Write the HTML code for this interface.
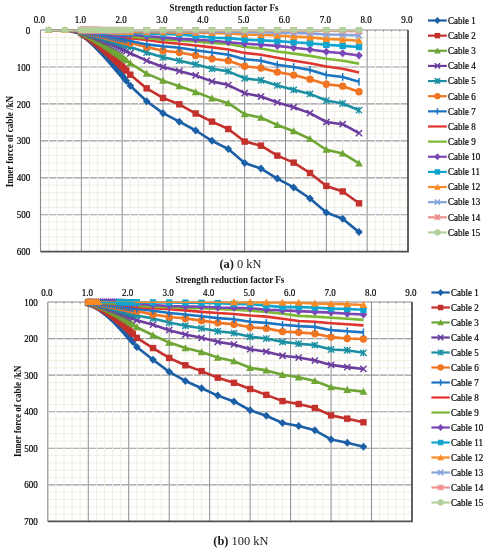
<!DOCTYPE html>
<html><head><meta charset="utf-8"><title>Cable inner force vs strength reduction factor</title>
<style>html,body{margin:0;padding:0;background:#fff;}body{width:488px;height:550px;overflow:hidden;}svg{display:block;}</style>
</head><body>
<svg width="488" height="550" viewBox="0 0 488 550"><defs><clipPath id="ct"><rect x="40.5" y="29.7" width="367.5" height="222"/></clipPath><clipPath id="cb"><rect x="47.8" y="301.5" width="364.2" height="219.9"/></clipPath></defs><rect x="40.5" y="30" width="367.5" height="221.7" fill="#fff"/><path d="M48.67 30V251.7M56.83 30V251.7M65 30V251.7M73.17 30V251.7M89.5 30V251.7M97.67 30V251.7M105.83 30V251.7M114 30V251.7M130.33 30V251.7M138.5 30V251.7M146.67 30V251.7M154.83 30V251.7M171.17 30V251.7M179.33 30V251.7M187.5 30V251.7M195.67 30V251.7M212 30V251.7M220.17 30V251.7M228.33 30V251.7M236.5 30V251.7M252.83 30V251.7M261 30V251.7M269.17 30V251.7M277.33 30V251.7M293.67 30V251.7M301.83 30V251.7M310 30V251.7M318.17 30V251.7M334.5 30V251.7M342.67 30V251.7M350.83 30V251.7M359 30V251.7M375.33 30V251.7M383.5 30V251.7M391.67 30V251.7M399.83 30V251.7" stroke="#F1EDE1" stroke-width="1" fill="none"/><path d="M40.5 37.39H408M40.5 44.78H408M40.5 52.17H408M40.5 59.56H408M40.5 74.34H408M40.5 81.73H408M40.5 89.12H408M40.5 96.51H408M40.5 111.29H408M40.5 118.68H408M40.5 126.07H408M40.5 133.46H408M40.5 148.24H408M40.5 155.63H408M40.5 163.02H408M40.5 170.41H408M40.5 185.19H408M40.5 192.58H408M40.5 199.97H408M40.5 207.36H408M40.5 222.14H408M40.5 229.53H408M40.5 236.92H408M40.5 244.31H408" stroke="#F1EDE1" stroke-width="1" fill="none"/><path d="M81.33 30V251.7M122.17 30V251.7M163 30V251.7M203.83 30V251.7M244.67 30V251.7M285.5 30V251.7M326.33 30V251.7M367.17 30V251.7" stroke="#8E8E8E" stroke-width="1" fill="none"/><path d="M40.5 66.95H408M40.5 103.9H408M40.5 140.85H408M40.5 177.8H408M40.5 214.75H408" stroke="#9A9A9A" stroke-width="1.15" fill="none" stroke-dasharray="7.07 1.1" stroke-dashoffset="7.62"/><path d="M40.5 251.7V30M40.5 30H408" stroke="#8A8A8A" stroke-width="1.1" fill="none"/><path d="M408 30V251.7H40.5" stroke="#505050" stroke-width="1.8" fill="none"/><path d="M48.67 30V31.6M56.83 30V31.6M65 30V31.6M73.17 30V31.6M81.33 30V31.6M89.5 30V31.6M97.67 30V31.6M105.83 30V31.6M114 30V31.6M122.17 30V31.6M130.33 30V31.6M138.5 30V31.6M146.67 30V31.6M154.83 30V31.6M163 30V31.6M171.17 30V31.6M179.33 30V31.6M187.5 30V31.6M195.67 30V31.6M203.83 30V31.6M212 30V31.6M220.17 30V31.6M228.33 30V31.6M236.5 30V31.6M244.67 30V31.6M252.83 30V31.6M261 30V31.6M269.17 30V31.6M277.33 30V31.6M285.5 30V31.6M293.67 30V31.6M301.83 30V31.6M310 30V31.6M318.17 30V31.6M326.33 30V31.6M334.5 30V31.6M342.67 30V31.6M350.83 30V31.6M359 30V31.6M367.17 30V31.6M375.33 30V31.6M383.5 30V31.6M391.67 30V31.6M399.83 30V31.6" stroke="#8A8A8A" stroke-width="0.8" fill="none"/><path d="M48.67 30L65 30L81.33 33.91L83.38 35.05L85.42 36.54L87.46 38.18L89.5 39.95L91.54 41.8L93.58 43.74L95.62 45.73L97.67 47.79L99.71 49.9L101.75 52.05L103.79 54.25L105.83 56.49L107.88 58.77L109.92 61.08L111.96 63.43L114 65.8L116.04 68.21L118.08 70.65L120.12 73.11L122.17 75.6L124.21 78.11L126.25 80.65L130.33 85.79L146.67 101.31L163 113.14L179.33 121.64L195.67 130.5L212 140.85L228.33 148.98L244.67 163.02L261 168.56L277.33 178.54L293.67 187.41L310 198.49L326.33 212.53L342.67 218.81L359 232.12" stroke="#1B5FA6" stroke-width="2.6" fill="none" stroke-linejoin="round" clip-path="url(#ct)"/><g><path d="M81.33 29.91L85.13 33.91L81.33 37.91L77.53 33.91Z" fill="#1B5FA6"/><path d="M83.38 31.05L87.17 35.05L83.38 39.05L79.58 35.05Z" fill="#1B5FA6"/><path d="M85.42 32.54L89.22 36.54L85.42 40.54L81.62 36.54Z" fill="#1B5FA6"/><path d="M87.46 34.18L91.26 38.18L87.46 42.18L83.66 38.18Z" fill="#1B5FA6"/><path d="M89.5 35.95L93.3 39.95L89.5 43.95L85.7 39.95Z" fill="#1B5FA6"/><path d="M91.54 37.8L95.34 41.8L91.54 45.8L87.74 41.8Z" fill="#1B5FA6"/><path d="M93.58 39.74L97.38 43.74L93.58 47.74L89.78 43.74Z" fill="#1B5FA6"/><path d="M95.62 41.73L99.42 45.73L95.62 49.73L91.83 45.73Z" fill="#1B5FA6"/><path d="M97.67 43.79L101.47 47.79L97.67 51.79L93.87 47.79Z" fill="#1B5FA6"/><path d="M99.71 45.9L103.51 49.9L99.71 53.9L95.91 49.9Z" fill="#1B5FA6"/><path d="M101.75 48.05L105.55 52.05L101.75 56.05L97.95 52.05Z" fill="#1B5FA6"/><path d="M103.79 50.25L107.59 54.25L103.79 58.25L99.99 54.25Z" fill="#1B5FA6"/><path d="M105.83 52.49L109.63 56.49L105.83 60.49L102.03 56.49Z" fill="#1B5FA6"/><path d="M107.88 54.77L111.67 58.77L107.88 62.77L104.08 58.77Z" fill="#1B5FA6"/><path d="M109.92 57.08L113.72 61.08L109.92 65.08L106.12 61.08Z" fill="#1B5FA6"/><path d="M111.96 59.43L115.76 63.43L111.96 67.43L108.16 63.43Z" fill="#1B5FA6"/><path d="M114 61.8L117.8 65.8L114 69.8L110.2 65.8Z" fill="#1B5FA6"/><path d="M116.04 64.21L119.84 68.21L116.04 72.21L112.24 68.21Z" fill="#1B5FA6"/><path d="M118.08 66.65L121.88 70.65L118.08 74.65L114.28 70.65Z" fill="#1B5FA6"/><path d="M120.12 69.11L123.92 73.11L120.12 77.11L116.33 73.11Z" fill="#1B5FA6"/><path d="M122.17 71.6L125.97 75.6L122.17 79.6L118.37 75.6Z" fill="#1B5FA6"/><path d="M124.21 74.11L128.01 78.11L124.21 82.11L120.41 78.11Z" fill="#1B5FA6"/><path d="M126.25 76.65L130.05 80.65L126.25 84.65L122.45 80.65Z" fill="#1B5FA6"/><path d="M130.33 81.79L134.13 85.79L130.33 89.79L126.53 85.79Z" fill="#1B5FA6"/><path d="M146.67 97.31L150.47 101.31L146.67 105.31L142.87 101.31Z" fill="#1B5FA6"/><path d="M163 109.14L166.8 113.14L163 117.14L159.2 113.14Z" fill="#1B5FA6"/><path d="M179.33 117.64L183.13 121.64L179.33 125.64L175.53 121.64Z" fill="#1B5FA6"/><path d="M195.67 126.5L199.47 130.5L195.67 134.5L191.87 130.5Z" fill="#1B5FA6"/><path d="M212 136.85L215.8 140.85L212 144.85L208.2 140.85Z" fill="#1B5FA6"/><path d="M228.33 144.98L232.13 148.98L228.33 152.98L224.53 148.98Z" fill="#1B5FA6"/><path d="M244.67 159.02L248.47 163.02L244.67 167.02L240.87 163.02Z" fill="#1B5FA6"/><path d="M261 164.56L264.8 168.56L261 172.56L257.2 168.56Z" fill="#1B5FA6"/><path d="M277.33 174.54L281.13 178.54L277.33 182.54L273.53 178.54Z" fill="#1B5FA6"/><path d="M293.67 183.41L297.47 187.41L293.67 191.41L289.87 187.41Z" fill="#1B5FA6"/><path d="M310 194.49L313.8 198.49L310 202.49L306.2 198.49Z" fill="#1B5FA6"/><path d="M326.33 208.53L330.13 212.53L326.33 216.53L322.53 212.53Z" fill="#1B5FA6"/><path d="M342.67 214.81L346.47 218.81L342.67 222.81L338.87 218.81Z" fill="#1B5FA6"/><path d="M359 228.12L362.8 232.12L359 236.12L355.2 232.12Z" fill="#1B5FA6"/></g><path d="M48.67 30L65 30L81.33 33.13L83.38 34.05L85.42 35.24L87.46 36.56L89.5 37.97L91.54 39.46L93.58 41.01L95.62 42.61L97.67 44.26L99.71 45.94L101.75 47.67L103.79 49.43L105.83 51.23L107.88 53.05L109.92 54.91L111.96 56.79L114 58.69L116.04 60.62L118.08 62.57L120.12 64.54L122.17 66.54L124.21 68.55L126.25 70.59L130.33 74.71L146.67 88.38L163 97.99L179.33 104.27L195.67 113.51L212 121.64L228.33 129.03L244.67 141.59L261 145.65L277.33 155.63L293.67 162.65L310 173L326.33 185.93L342.67 191.47L359 203.3" stroke="#C4302C" stroke-width="2.6" fill="none" stroke-linejoin="round" clip-path="url(#ct)"/><g><rect x="78.13" y="29.93" width="6.4" height="6.4" fill="#C4302C"/><rect x="80.17" y="30.85" width="6.4" height="6.4" fill="#C4302C"/><rect x="82.22" y="32.04" width="6.4" height="6.4" fill="#C4302C"/><rect x="84.26" y="33.36" width="6.4" height="6.4" fill="#C4302C"/><rect x="86.3" y="34.77" width="6.4" height="6.4" fill="#C4302C"/><rect x="88.34" y="36.26" width="6.4" height="6.4" fill="#C4302C"/><rect x="90.38" y="37.81" width="6.4" height="6.4" fill="#C4302C"/><rect x="92.42" y="39.41" width="6.4" height="6.4" fill="#C4302C"/><rect x="94.47" y="41.06" width="6.4" height="6.4" fill="#C4302C"/><rect x="96.51" y="42.74" width="6.4" height="6.4" fill="#C4302C"/><rect x="98.55" y="44.47" width="6.4" height="6.4" fill="#C4302C"/><rect x="100.59" y="46.23" width="6.4" height="6.4" fill="#C4302C"/><rect x="102.63" y="48.03" width="6.4" height="6.4" fill="#C4302C"/><rect x="104.67" y="49.85" width="6.4" height="6.4" fill="#C4302C"/><rect x="106.72" y="51.71" width="6.4" height="6.4" fill="#C4302C"/><rect x="108.76" y="53.59" width="6.4" height="6.4" fill="#C4302C"/><rect x="110.8" y="55.49" width="6.4" height="6.4" fill="#C4302C"/><rect x="112.84" y="57.42" width="6.4" height="6.4" fill="#C4302C"/><rect x="114.88" y="59.37" width="6.4" height="6.4" fill="#C4302C"/><rect x="116.92" y="61.34" width="6.4" height="6.4" fill="#C4302C"/><rect x="118.97" y="63.34" width="6.4" height="6.4" fill="#C4302C"/><rect x="121.01" y="65.35" width="6.4" height="6.4" fill="#C4302C"/><rect x="123.05" y="67.39" width="6.4" height="6.4" fill="#C4302C"/><rect x="127.13" y="71.51" width="6.4" height="6.4" fill="#C4302C"/><rect x="143.47" y="85.18" width="6.4" height="6.4" fill="#C4302C"/><rect x="159.8" y="94.79" width="6.4" height="6.4" fill="#C4302C"/><rect x="176.13" y="101.07" width="6.4" height="6.4" fill="#C4302C"/><rect x="192.47" y="110.31" width="6.4" height="6.4" fill="#C4302C"/><rect x="208.8" y="118.44" width="6.4" height="6.4" fill="#C4302C"/><rect x="225.13" y="125.83" width="6.4" height="6.4" fill="#C4302C"/><rect x="241.47" y="138.39" width="6.4" height="6.4" fill="#C4302C"/><rect x="257.8" y="142.45" width="6.4" height="6.4" fill="#C4302C"/><rect x="274.13" y="152.43" width="6.4" height="6.4" fill="#C4302C"/><rect x="290.47" y="159.45" width="6.4" height="6.4" fill="#C4302C"/><rect x="306.8" y="169.8" width="6.4" height="6.4" fill="#C4302C"/><rect x="323.13" y="182.73" width="6.4" height="6.4" fill="#C4302C"/><rect x="339.47" y="188.27" width="6.4" height="6.4" fill="#C4302C"/><rect x="355.8" y="200.1" width="6.4" height="6.4" fill="#C4302C"/></g><path d="M48.67 30L65 30L81.33 32.33L83.38 33.01L85.42 33.9L87.46 34.88L89.5 35.93L91.54 37.04L93.58 38.19L95.62 39.38L97.67 40.6L99.71 41.86L101.75 43.14L103.79 44.45L105.83 45.79L107.88 47.15L109.92 48.53L111.96 49.92L114 51.34L116.04 52.77L118.08 54.23L120.12 55.69L122.17 57.18L124.21 58.68L126.25 60.19L130.33 63.26L146.67 73.6L163 80.62L179.33 86.16L195.67 92.08L212 98.36L228.33 103.16L244.67 114.25L261 117.57L277.33 124.96L293.67 131.24L310 139L326.33 149.72L342.67 153.41L359 163.39" stroke="#6EA535" stroke-width="2.6" fill="none" stroke-linejoin="round" clip-path="url(#ct)"/><g><path d="M81.33 28.43L85.23 35.45L77.43 35.45Z" fill="#6EA535"/><path d="M83.38 29.11L87.28 36.13L79.47 36.13Z" fill="#6EA535"/><path d="M85.42 30L89.32 37.02L81.52 37.02Z" fill="#6EA535"/><path d="M87.46 30.98L91.36 38L83.56 38Z" fill="#6EA535"/><path d="M89.5 32.03L93.4 39.05L85.6 39.05Z" fill="#6EA535"/><path d="M91.54 33.14L95.44 40.16L87.64 40.16Z" fill="#6EA535"/><path d="M93.58 34.29L97.48 41.31L89.68 41.31Z" fill="#6EA535"/><path d="M95.62 35.48L99.53 42.5L91.72 42.5Z" fill="#6EA535"/><path d="M97.67 36.7L101.57 43.72L93.77 43.72Z" fill="#6EA535"/><path d="M99.71 37.96L103.61 44.98L95.81 44.98Z" fill="#6EA535"/><path d="M101.75 39.24L105.65 46.26L97.85 46.26Z" fill="#6EA535"/><path d="M103.79 40.55L107.69 47.57L99.89 47.57Z" fill="#6EA535"/><path d="M105.83 41.89L109.73 48.91L101.93 48.91Z" fill="#6EA535"/><path d="M107.88 43.25L111.78 50.27L103.97 50.27Z" fill="#6EA535"/><path d="M109.92 44.63L113.82 51.65L106.02 51.65Z" fill="#6EA535"/><path d="M111.96 46.02L115.86 53.04L108.06 53.04Z" fill="#6EA535"/><path d="M114 47.44L117.9 54.46L110.1 54.46Z" fill="#6EA535"/><path d="M116.04 48.87L119.94 55.89L112.14 55.89Z" fill="#6EA535"/><path d="M118.08 50.33L121.98 57.35L114.18 57.35Z" fill="#6EA535"/><path d="M120.12 51.79L124.03 58.81L116.22 58.81Z" fill="#6EA535"/><path d="M122.17 53.28L126.07 60.3L118.27 60.3Z" fill="#6EA535"/><path d="M124.21 54.78L128.11 61.8L120.31 61.8Z" fill="#6EA535"/><path d="M126.25 56.29L130.15 63.31L122.35 63.31Z" fill="#6EA535"/><path d="M130.33 59.36L134.23 66.38L126.43 66.38Z" fill="#6EA535"/><path d="M146.67 69.7L150.57 76.72L142.77 76.72Z" fill="#6EA535"/><path d="M163 76.72L166.9 83.74L159.1 83.74Z" fill="#6EA535"/><path d="M179.33 82.26L183.23 89.28L175.43 89.28Z" fill="#6EA535"/><path d="M195.67 88.18L199.57 95.2L191.77 95.2Z" fill="#6EA535"/><path d="M212 94.46L215.9 101.48L208.1 101.48Z" fill="#6EA535"/><path d="M228.33 99.26L232.23 106.28L224.43 106.28Z" fill="#6EA535"/><path d="M244.67 110.35L248.57 117.37L240.77 117.37Z" fill="#6EA535"/><path d="M261 113.67L264.9 120.69L257.1 120.69Z" fill="#6EA535"/><path d="M277.33 121.06L281.23 128.08L273.43 128.08Z" fill="#6EA535"/><path d="M293.67 127.34L297.57 134.36L289.77 134.36Z" fill="#6EA535"/><path d="M310 135.1L313.9 142.12L306.1 142.12Z" fill="#6EA535"/><path d="M326.33 145.82L330.23 152.84L322.43 152.84Z" fill="#6EA535"/><path d="M342.67 149.51L346.57 156.53L338.77 156.53Z" fill="#6EA535"/><path d="M359 159.49L362.9 166.51L355.1 166.51Z" fill="#6EA535"/></g><path d="M48.67 30L65 30L81.33 31.63L83.38 32.11L85.42 32.73L87.46 33.41L89.5 34.15L91.54 34.93L93.58 35.73L95.62 36.56L97.67 37.42L99.71 38.3L101.75 39.2L103.79 40.12L105.83 41.05L107.88 42L109.92 42.97L111.96 43.95L114 44.94L116.04 45.94L118.08 46.96L120.12 47.99L122.17 49.02L124.21 50.07L126.25 51.13L130.33 53.28L146.67 60.67L163 66.95L179.33 71.01L195.67 75.45L212 81.36L228.33 85.06L244.67 93.18L261 96.51L277.33 102.42L293.67 107.23L310 113.14L326.33 122.01L342.67 124.22L359 133.09" stroke="#6A3D9E" stroke-width="2.6" fill="none" stroke-linejoin="round" clip-path="url(#ct)"/><g><path d="M78.23 28.53L84.43 34.73M78.23 34.73L84.43 28.53" stroke="#6A3D9E" stroke-width="1.5" fill="none"/><path d="M80.28 29.01L86.47 35.21M80.28 35.21L86.47 29.01" stroke="#6A3D9E" stroke-width="1.5" fill="none"/><path d="M82.32 29.63L88.52 35.83M82.32 35.83L88.52 29.63" stroke="#6A3D9E" stroke-width="1.5" fill="none"/><path d="M84.36 30.31L90.56 36.51M84.36 36.51L90.56 30.31" stroke="#6A3D9E" stroke-width="1.5" fill="none"/><path d="M86.4 31.05L92.6 37.25M86.4 37.25L92.6 31.05" stroke="#6A3D9E" stroke-width="1.5" fill="none"/><path d="M88.44 31.83L94.64 38.03M88.44 38.03L94.64 31.83" stroke="#6A3D9E" stroke-width="1.5" fill="none"/><path d="M90.48 32.63L96.68 38.83M90.48 38.83L96.68 32.63" stroke="#6A3D9E" stroke-width="1.5" fill="none"/><path d="M92.53 33.46L98.72 39.66M92.53 39.66L98.72 33.46" stroke="#6A3D9E" stroke-width="1.5" fill="none"/><path d="M94.57 34.32L100.77 40.52M94.57 40.52L100.77 34.32" stroke="#6A3D9E" stroke-width="1.5" fill="none"/><path d="M96.61 35.2L102.81 41.4M96.61 41.4L102.81 35.2" stroke="#6A3D9E" stroke-width="1.5" fill="none"/><path d="M98.65 36.1L104.85 42.3M98.65 42.3L104.85 36.1" stroke="#6A3D9E" stroke-width="1.5" fill="none"/><path d="M100.69 37.02L106.89 43.22M100.69 43.22L106.89 37.02" stroke="#6A3D9E" stroke-width="1.5" fill="none"/><path d="M102.73 37.95L108.93 44.15M102.73 44.15L108.93 37.95" stroke="#6A3D9E" stroke-width="1.5" fill="none"/><path d="M104.78 38.9L110.97 45.1M104.78 45.1L110.97 38.9" stroke="#6A3D9E" stroke-width="1.5" fill="none"/><path d="M106.82 39.87L113.02 46.07M106.82 46.07L113.02 39.87" stroke="#6A3D9E" stroke-width="1.5" fill="none"/><path d="M108.86 40.85L115.06 47.05M108.86 47.05L115.06 40.85" stroke="#6A3D9E" stroke-width="1.5" fill="none"/><path d="M110.9 41.84L117.1 48.04M110.9 48.04L117.1 41.84" stroke="#6A3D9E" stroke-width="1.5" fill="none"/><path d="M112.94 42.84L119.14 49.04M112.94 49.04L119.14 42.84" stroke="#6A3D9E" stroke-width="1.5" fill="none"/><path d="M114.98 43.86L121.18 50.06M114.98 50.06L121.18 43.86" stroke="#6A3D9E" stroke-width="1.5" fill="none"/><path d="M117.03 44.89L123.22 51.09M117.03 51.09L123.22 44.89" stroke="#6A3D9E" stroke-width="1.5" fill="none"/><path d="M119.07 45.92L125.27 52.12M119.07 52.12L125.27 45.92" stroke="#6A3D9E" stroke-width="1.5" fill="none"/><path d="M121.11 46.97L127.31 53.17M121.11 53.17L127.31 46.97" stroke="#6A3D9E" stroke-width="1.5" fill="none"/><path d="M123.15 48.03L129.35 54.23M123.15 54.23L129.35 48.03" stroke="#6A3D9E" stroke-width="1.5" fill="none"/><path d="M127.23 50.18L133.43 56.38M127.23 56.38L133.43 50.18" stroke="#6A3D9E" stroke-width="1.5" fill="none"/><path d="M143.57 57.57L149.77 63.77M143.57 63.77L149.77 57.57" stroke="#6A3D9E" stroke-width="1.5" fill="none"/><path d="M159.9 63.85L166.1 70.05M159.9 70.05L166.1 63.85" stroke="#6A3D9E" stroke-width="1.5" fill="none"/><path d="M176.23 67.91L182.43 74.11M176.23 74.11L182.43 67.91" stroke="#6A3D9E" stroke-width="1.5" fill="none"/><path d="M192.57 72.35L198.77 78.55M192.57 78.55L198.77 72.35" stroke="#6A3D9E" stroke-width="1.5" fill="none"/><path d="M208.9 78.26L215.1 84.46M208.9 84.46L215.1 78.26" stroke="#6A3D9E" stroke-width="1.5" fill="none"/><path d="M225.23 81.96L231.43 88.16M225.23 88.16L231.43 81.96" stroke="#6A3D9E" stroke-width="1.5" fill="none"/><path d="M241.57 90.08L247.77 96.28M241.57 96.28L247.77 90.08" stroke="#6A3D9E" stroke-width="1.5" fill="none"/><path d="M257.9 93.41L264.1 99.61M257.9 99.61L264.1 93.41" stroke="#6A3D9E" stroke-width="1.5" fill="none"/><path d="M274.23 99.32L280.43 105.52M274.23 105.52L280.43 99.32" stroke="#6A3D9E" stroke-width="1.5" fill="none"/><path d="M290.57 104.13L296.77 110.33M290.57 110.33L296.77 104.13" stroke="#6A3D9E" stroke-width="1.5" fill="none"/><path d="M306.9 110.04L313.1 116.24M306.9 116.24L313.1 110.04" stroke="#6A3D9E" stroke-width="1.5" fill="none"/><path d="M323.23 118.91L329.43 125.11M323.23 125.11L329.43 118.91" stroke="#6A3D9E" stroke-width="1.5" fill="none"/><path d="M339.57 121.12L345.77 127.32M339.57 127.32L345.77 121.12" stroke="#6A3D9E" stroke-width="1.5" fill="none"/><path d="M355.9 129.99L362.1 136.19M355.9 136.19L362.1 129.99" stroke="#6A3D9E" stroke-width="1.5" fill="none"/></g><path d="M48.67 30L65 30L81.33 31.19L83.38 31.54L85.42 31.99L87.46 32.49L89.5 33.03L91.54 33.6L93.58 34.18L95.62 34.79L97.67 35.42L99.71 36.06L101.75 36.72L103.79 37.39L105.83 38.07L107.88 38.76L109.92 39.47L111.96 40.18L114 40.91L116.04 41.64L118.08 42.38L120.12 43.13L122.17 43.89L124.21 44.66L126.25 45.43L130.33 47L146.67 52.54L163 57.34L179.33 60.67L195.67 64.36L212 68.8L228.33 71.38L244.67 78.4L261 80.25L277.33 85.42L293.67 89.86L310 93.92L326.33 100.57L342.67 103.53L359 110.18" stroke="#1B90A2" stroke-width="2.6" fill="none" stroke-linejoin="round" clip-path="url(#ct)"/><g><path d="M78.13 27.99L84.53 34.39M78.13 34.39L84.53 27.99M81.33 27.99L81.33 34.39" stroke="#1B90A2" stroke-width="1.4" fill="none"/><path d="M80.17 28.34L86.58 34.74M80.17 34.74L86.58 28.34M83.38 28.34L83.38 34.74" stroke="#1B90A2" stroke-width="1.4" fill="none"/><path d="M82.22 28.79L88.62 35.19M82.22 35.19L88.62 28.79M85.42 28.79L85.42 35.19" stroke="#1B90A2" stroke-width="1.4" fill="none"/><path d="M84.26 29.29L90.66 35.69M84.26 35.69L90.66 29.29M87.46 29.29L87.46 35.69" stroke="#1B90A2" stroke-width="1.4" fill="none"/><path d="M86.3 29.83L92.7 36.23M86.3 36.23L92.7 29.83M89.5 29.83L89.5 36.23" stroke="#1B90A2" stroke-width="1.4" fill="none"/><path d="M88.34 30.4L94.74 36.8M88.34 36.8L94.74 30.4M91.54 30.4L91.54 36.8" stroke="#1B90A2" stroke-width="1.4" fill="none"/><path d="M90.38 30.98L96.78 37.38M90.38 37.38L96.78 30.98M93.58 30.98L93.58 37.38" stroke="#1B90A2" stroke-width="1.4" fill="none"/><path d="M92.42 31.59L98.83 37.99M92.42 37.99L98.83 31.59M95.62 31.59L95.62 37.99" stroke="#1B90A2" stroke-width="1.4" fill="none"/><path d="M94.47 32.22L100.87 38.62M94.47 38.62L100.87 32.22M97.67 32.22L97.67 38.62" stroke="#1B90A2" stroke-width="1.4" fill="none"/><path d="M96.51 32.86L102.91 39.26M96.51 39.26L102.91 32.86M99.71 32.86L99.71 39.26" stroke="#1B90A2" stroke-width="1.4" fill="none"/><path d="M98.55 33.52L104.95 39.92M98.55 39.92L104.95 33.52M101.75 33.52L101.75 39.92" stroke="#1B90A2" stroke-width="1.4" fill="none"/><path d="M100.59 34.19L106.99 40.59M100.59 40.59L106.99 34.19M103.79 34.19L103.79 40.59" stroke="#1B90A2" stroke-width="1.4" fill="none"/><path d="M102.63 34.87L109.03 41.27M102.63 41.27L109.03 34.87M105.83 34.87L105.83 41.27" stroke="#1B90A2" stroke-width="1.4" fill="none"/><path d="M104.67 35.56L111.08 41.96M104.67 41.96L111.08 35.56M107.88 35.56L107.88 41.96" stroke="#1B90A2" stroke-width="1.4" fill="none"/><path d="M106.72 36.27L113.12 42.67M106.72 42.67L113.12 36.27M109.92 36.27L109.92 42.67" stroke="#1B90A2" stroke-width="1.4" fill="none"/><path d="M108.76 36.98L115.16 43.38M108.76 43.38L115.16 36.98M111.96 36.98L111.96 43.38" stroke="#1B90A2" stroke-width="1.4" fill="none"/><path d="M110.8 37.71L117.2 44.11M110.8 44.11L117.2 37.71M114 37.71L114 44.11" stroke="#1B90A2" stroke-width="1.4" fill="none"/><path d="M112.84 38.44L119.24 44.84M112.84 44.84L119.24 38.44M116.04 38.44L116.04 44.84" stroke="#1B90A2" stroke-width="1.4" fill="none"/><path d="M114.88 39.18L121.28 45.58M114.88 45.58L121.28 39.18M118.08 39.18L118.08 45.58" stroke="#1B90A2" stroke-width="1.4" fill="none"/><path d="M116.92 39.93L123.33 46.33M116.92 46.33L123.33 39.93M120.12 39.93L120.12 46.33" stroke="#1B90A2" stroke-width="1.4" fill="none"/><path d="M118.97 40.69L125.37 47.09M118.97 47.09L125.37 40.69M122.17 40.69L122.17 47.09" stroke="#1B90A2" stroke-width="1.4" fill="none"/><path d="M121.01 41.46L127.41 47.86M121.01 47.86L127.41 41.46M124.21 41.46L124.21 47.86" stroke="#1B90A2" stroke-width="1.4" fill="none"/><path d="M123.05 42.23L129.45 48.63M123.05 48.63L129.45 42.23M126.25 42.23L126.25 48.63" stroke="#1B90A2" stroke-width="1.4" fill="none"/><path d="M127.13 43.8L133.53 50.2M127.13 50.2L133.53 43.8M130.33 43.8L130.33 50.2" stroke="#1B90A2" stroke-width="1.4" fill="none"/><path d="M143.47 49.34L149.87 55.74M143.47 55.74L149.87 49.34M146.67 49.34L146.67 55.74" stroke="#1B90A2" stroke-width="1.4" fill="none"/><path d="M159.8 54.14L166.2 60.54M159.8 60.54L166.2 54.14M163 54.14L163 60.54" stroke="#1B90A2" stroke-width="1.4" fill="none"/><path d="M176.13 57.47L182.53 63.87M176.13 63.87L182.53 57.47M179.33 57.47L179.33 63.87" stroke="#1B90A2" stroke-width="1.4" fill="none"/><path d="M192.47 61.16L198.87 67.56M192.47 67.56L198.87 61.16M195.67 61.16L195.67 67.56" stroke="#1B90A2" stroke-width="1.4" fill="none"/><path d="M208.8 65.6L215.2 72M208.8 72L215.2 65.6M212 65.6L212 72" stroke="#1B90A2" stroke-width="1.4" fill="none"/><path d="M225.13 68.18L231.53 74.58M225.13 74.58L231.53 68.18M228.33 68.18L228.33 74.58" stroke="#1B90A2" stroke-width="1.4" fill="none"/><path d="M241.47 75.2L247.87 81.6M241.47 81.6L247.87 75.2M244.67 75.2L244.67 81.6" stroke="#1B90A2" stroke-width="1.4" fill="none"/><path d="M257.8 77.05L264.2 83.45M257.8 83.45L264.2 77.05M261 77.05L261 83.45" stroke="#1B90A2" stroke-width="1.4" fill="none"/><path d="M274.13 82.22L280.53 88.62M274.13 88.62L280.53 82.22M277.33 82.22L277.33 88.62" stroke="#1B90A2" stroke-width="1.4" fill="none"/><path d="M290.47 86.66L296.87 93.06M290.47 93.06L296.87 86.66M293.67 86.66L293.67 93.06" stroke="#1B90A2" stroke-width="1.4" fill="none"/><path d="M306.8 90.72L313.2 97.12M306.8 97.12L313.2 90.72M310 90.72L310 97.12" stroke="#1B90A2" stroke-width="1.4" fill="none"/><path d="M323.13 97.37L329.53 103.77M323.13 103.77L329.53 97.37M326.33 97.37L326.33 103.77" stroke="#1B90A2" stroke-width="1.4" fill="none"/><path d="M339.47 100.33L345.87 106.73M339.47 106.73L345.87 100.33M342.67 100.33L342.67 106.73" stroke="#1B90A2" stroke-width="1.4" fill="none"/><path d="M355.8 106.98L362.2 113.38M355.8 113.38L362.2 106.98M359 106.98L359 113.38" stroke="#1B90A2" stroke-width="1.4" fill="none"/></g><path d="M48.67 30L65 30L81.33 30.91L83.38 31.17L85.42 31.52L87.46 31.9L89.5 32.31L91.54 32.74L93.58 33.18L95.62 33.65L97.67 34.12L99.71 34.61L101.75 35.11L103.79 35.62L105.83 36.14L107.88 36.67L109.92 37.2L111.96 37.75L114 38.3L116.04 38.86L118.08 39.42L120.12 39.99L122.17 40.57L124.21 41.15L126.25 41.74L130.33 42.93L146.67 47L163 50.69L179.33 52.54L195.67 55.5L212 58.82L228.33 60.67L244.67 66.21L261 68.06L277.33 72.12L293.67 75.08L310 79.14L326.33 84.32L342.67 86.16L359 91.71" stroke="#F07522" stroke-width="2.6" fill="none" stroke-linejoin="round" clip-path="url(#ct)"/><g><circle cx="81.33" cy="30.91" r="3.7" fill="#F07522"/><circle cx="83.38" cy="31.17" r="3.7" fill="#F07522"/><circle cx="85.42" cy="31.52" r="3.7" fill="#F07522"/><circle cx="87.46" cy="31.9" r="3.7" fill="#F07522"/><circle cx="89.5" cy="32.31" r="3.7" fill="#F07522"/><circle cx="91.54" cy="32.74" r="3.7" fill="#F07522"/><circle cx="93.58" cy="33.18" r="3.7" fill="#F07522"/><circle cx="95.62" cy="33.65" r="3.7" fill="#F07522"/><circle cx="97.67" cy="34.12" r="3.7" fill="#F07522"/><circle cx="99.71" cy="34.61" r="3.7" fill="#F07522"/><circle cx="101.75" cy="35.11" r="3.7" fill="#F07522"/><circle cx="103.79" cy="35.62" r="3.7" fill="#F07522"/><circle cx="105.83" cy="36.14" r="3.7" fill="#F07522"/><circle cx="107.88" cy="36.67" r="3.7" fill="#F07522"/><circle cx="109.92" cy="37.2" r="3.7" fill="#F07522"/><circle cx="111.96" cy="37.75" r="3.7" fill="#F07522"/><circle cx="114" cy="38.3" r="3.7" fill="#F07522"/><circle cx="116.04" cy="38.86" r="3.7" fill="#F07522"/><circle cx="118.08" cy="39.42" r="3.7" fill="#F07522"/><circle cx="120.12" cy="39.99" r="3.7" fill="#F07522"/><circle cx="122.17" cy="40.57" r="3.7" fill="#F07522"/><circle cx="124.21" cy="41.15" r="3.7" fill="#F07522"/><circle cx="126.25" cy="41.74" r="3.7" fill="#F07522"/><circle cx="130.33" cy="42.93" r="3.7" fill="#F07522"/><circle cx="146.67" cy="47" r="3.7" fill="#F07522"/><circle cx="163" cy="50.69" r="3.7" fill="#F07522"/><circle cx="179.33" cy="52.54" r="3.7" fill="#F07522"/><circle cx="195.67" cy="55.5" r="3.7" fill="#F07522"/><circle cx="212" cy="58.82" r="3.7" fill="#F07522"/><circle cx="228.33" cy="60.67" r="3.7" fill="#F07522"/><circle cx="244.67" cy="66.21" r="3.7" fill="#F07522"/><circle cx="261" cy="68.06" r="3.7" fill="#F07522"/><circle cx="277.33" cy="72.12" r="3.7" fill="#F07522"/><circle cx="293.67" cy="75.08" r="3.7" fill="#F07522"/><circle cx="310" cy="79.14" r="3.7" fill="#F07522"/><circle cx="326.33" cy="84.32" r="3.7" fill="#F07522"/><circle cx="342.67" cy="86.16" r="3.7" fill="#F07522"/><circle cx="359" cy="91.71" r="3.7" fill="#F07522"/></g><path d="M48.67 30L65 30L81.33 30.78L83.38 31L85.42 31.3L87.46 31.63L89.5 31.98L91.54 32.35L93.58 32.73L95.62 33.13L97.67 33.53L99.71 33.95L101.75 34.38L103.79 34.82L105.83 35.26L107.88 35.72L109.92 36.18L111.96 36.64L114 37.11L116.04 37.59L118.08 38.08L120.12 38.56L122.17 39.06L124.21 39.56L126.25 40.06L130.33 41.09L146.67 44.41L163 46.26L179.33 47.74L195.67 50.32L212 52.54L228.33 54.76L244.67 59.19L261 60.67L277.33 64.73L293.67 66.95L310 69.91L326.33 75.08L342.67 76.93L359 81.73" stroke="#1C74C2" stroke-width="2.6" fill="none" stroke-linejoin="round" clip-path="url(#ct)"/><g><path d="M81.33 26.98L81.33 34.58" stroke="#1C74C2" stroke-width="1.5" fill="none"/><path d="M83.38 27.2L83.38 34.8" stroke="#1C74C2" stroke-width="1.5" fill="none"/><path d="M85.42 27.5L85.42 35.1" stroke="#1C74C2" stroke-width="1.5" fill="none"/><path d="M87.46 27.83L87.46 35.43" stroke="#1C74C2" stroke-width="1.5" fill="none"/><path d="M89.5 28.18L89.5 35.78" stroke="#1C74C2" stroke-width="1.5" fill="none"/><path d="M91.54 28.55L91.54 36.15" stroke="#1C74C2" stroke-width="1.5" fill="none"/><path d="M93.58 28.93L93.58 36.53" stroke="#1C74C2" stroke-width="1.5" fill="none"/><path d="M95.62 29.33L95.62 36.93" stroke="#1C74C2" stroke-width="1.5" fill="none"/><path d="M97.67 29.73L97.67 37.33" stroke="#1C74C2" stroke-width="1.5" fill="none"/><path d="M99.71 30.15L99.71 37.75" stroke="#1C74C2" stroke-width="1.5" fill="none"/><path d="M101.75 30.58L101.75 38.18" stroke="#1C74C2" stroke-width="1.5" fill="none"/><path d="M103.79 31.02L103.79 38.62" stroke="#1C74C2" stroke-width="1.5" fill="none"/><path d="M105.83 31.46L105.83 39.06" stroke="#1C74C2" stroke-width="1.5" fill="none"/><path d="M107.88 31.92L107.88 39.52" stroke="#1C74C2" stroke-width="1.5" fill="none"/><path d="M109.92 32.38L109.92 39.98" stroke="#1C74C2" stroke-width="1.5" fill="none"/><path d="M111.96 32.84L111.96 40.44" stroke="#1C74C2" stroke-width="1.5" fill="none"/><path d="M114 33.31L114 40.91" stroke="#1C74C2" stroke-width="1.5" fill="none"/><path d="M116.04 33.79L116.04 41.39" stroke="#1C74C2" stroke-width="1.5" fill="none"/><path d="M118.08 34.28L118.08 41.88" stroke="#1C74C2" stroke-width="1.5" fill="none"/><path d="M120.12 34.76L120.12 42.36" stroke="#1C74C2" stroke-width="1.5" fill="none"/><path d="M122.17 35.26L122.17 42.86" stroke="#1C74C2" stroke-width="1.5" fill="none"/><path d="M124.21 35.76L124.21 43.36" stroke="#1C74C2" stroke-width="1.5" fill="none"/><path d="M126.25 36.26L126.25 43.86" stroke="#1C74C2" stroke-width="1.5" fill="none"/><path d="M130.33 37.29L130.33 44.88" stroke="#1C74C2" stroke-width="1.5" fill="none"/><path d="M146.67 40.61L146.67 48.21" stroke="#1C74C2" stroke-width="1.5" fill="none"/><path d="M163 42.46L163 50.06" stroke="#1C74C2" stroke-width="1.5" fill="none"/><path d="M179.33 43.94L179.33 51.54" stroke="#1C74C2" stroke-width="1.5" fill="none"/><path d="M195.67 46.52L195.67 54.12" stroke="#1C74C2" stroke-width="1.5" fill="none"/><path d="M212 48.74L212 56.34" stroke="#1C74C2" stroke-width="1.5" fill="none"/><path d="M228.33 50.96L228.33 58.56" stroke="#1C74C2" stroke-width="1.5" fill="none"/><path d="M244.67 55.39L244.67 62.99" stroke="#1C74C2" stroke-width="1.5" fill="none"/><path d="M261 56.87L261 64.47" stroke="#1C74C2" stroke-width="1.5" fill="none"/><path d="M277.33 60.93L277.33 68.53" stroke="#1C74C2" stroke-width="1.5" fill="none"/><path d="M293.67 63.15L293.67 70.75" stroke="#1C74C2" stroke-width="1.5" fill="none"/><path d="M310 66.11L310 73.71" stroke="#1C74C2" stroke-width="1.5" fill="none"/><path d="M326.33 71.28L326.33 78.88" stroke="#1C74C2" stroke-width="1.5" fill="none"/><path d="M342.67 73.13L342.67 80.73" stroke="#1C74C2" stroke-width="1.5" fill="none"/><path d="M359 77.93L359 85.53" stroke="#1C74C2" stroke-width="1.5" fill="none"/></g><path d="M48.67 30L65 30L81.33 30.57L83.38 30.74L85.42 30.95L87.46 31.19L89.5 31.45L91.54 31.72L93.58 32L95.62 32.29L97.67 32.59L99.71 32.9L101.75 33.21L103.79 33.53L105.83 33.86L107.88 34.19L109.92 34.53L111.96 34.87L114 35.22L116.04 35.57L118.08 35.92L120.12 36.28L122.17 36.64L124.21 37.01L126.25 37.38L130.33 38.13L146.67 39.98L163 42.19L179.33 43.67L195.67 45.52L212 47.37L228.33 49.58L244.67 52.91L261 54.76L277.33 57.71L293.67 60.67L310 63.26L326.33 66.58L342.67 68.8L359 72.49" stroke="#E0342F" stroke-width="2.6" fill="none" stroke-linejoin="round" clip-path="url(#ct)"/><path d="M48.67 30L65 30L81.33 30.47L83.38 30.6L85.42 30.78L87.46 30.98L89.5 31.19L91.54 31.41L93.58 31.64L95.62 31.88L97.67 32.12L99.71 32.37L101.75 32.63L103.79 32.89L105.83 33.16L107.88 33.43L109.92 33.71L111.96 33.98L114 34.27L116.04 34.55L118.08 34.85L120.12 35.14L122.17 35.44L124.21 35.74L126.25 36.04L130.33 36.65L146.67 38.13L163 39.61L179.33 40.35L195.67 41.45L212 42.93L228.33 44.04L244.67 47L261 48.48L277.33 51.43L293.67 53.65L310 55.86L326.33 58.82L342.67 60.67L359 63.62" stroke="#7DBA34" stroke-width="2.6" fill="none" stroke-linejoin="round" clip-path="url(#ct)"/><path d="M48.67 30L65 30L81.33 30.34L83.38 30.43L85.42 30.56L87.46 30.7L89.5 30.86L91.54 31.02L93.58 31.18L95.62 31.35L97.67 31.53L99.71 31.71L101.75 31.9L103.79 32.09L105.83 32.28L107.88 32.48L109.92 32.68L111.96 32.88L114 33.08L116.04 33.29L118.08 33.5L120.12 33.71L122.17 33.93L124.21 34.14L126.25 34.36L130.33 34.8L146.67 36.28L163 37.39L179.33 38.87L195.67 39.61L212 40.72L228.33 42.19L244.67 43.67L261 44.78L277.33 45.89L293.67 47.74L310 49.58L326.33 51.8L342.67 53.28L359 55.5" stroke="#7B47B6" stroke-width="2.6" fill="none" stroke-linejoin="round" clip-path="url(#ct)"/><g><path d="M81.33 26.34L85.13 30.34L81.33 34.34L77.53 30.34Z" fill="#7B47B6"/><path d="M83.38 26.43L87.17 30.43L83.38 34.43L79.58 30.43Z" fill="#7B47B6"/><path d="M85.42 26.56L89.22 30.56L85.42 34.56L81.62 30.56Z" fill="#7B47B6"/><path d="M87.46 26.7L91.26 30.7L87.46 34.7L83.66 30.7Z" fill="#7B47B6"/><path d="M89.5 26.86L93.3 30.86L89.5 34.86L85.7 30.86Z" fill="#7B47B6"/><path d="M91.54 27.02L95.34 31.02L91.54 35.02L87.74 31.02Z" fill="#7B47B6"/><path d="M93.58 27.18L97.38 31.18L93.58 35.18L89.78 31.18Z" fill="#7B47B6"/><path d="M95.62 27.35L99.42 31.35L95.62 35.35L91.83 31.35Z" fill="#7B47B6"/><path d="M97.67 27.53L101.47 31.53L97.67 35.53L93.87 31.53Z" fill="#7B47B6"/><path d="M99.71 27.71L103.51 31.71L99.71 35.71L95.91 31.71Z" fill="#7B47B6"/><path d="M101.75 27.9L105.55 31.9L101.75 35.9L97.95 31.9Z" fill="#7B47B6"/><path d="M103.79 28.09L107.59 32.09L103.79 36.09L99.99 32.09Z" fill="#7B47B6"/><path d="M105.83 28.28L109.63 32.28L105.83 36.28L102.03 32.28Z" fill="#7B47B6"/><path d="M107.88 28.48L111.67 32.48L107.88 36.48L104.08 32.48Z" fill="#7B47B6"/><path d="M109.92 28.68L113.72 32.68L109.92 36.68L106.12 32.68Z" fill="#7B47B6"/><path d="M111.96 28.88L115.76 32.88L111.96 36.88L108.16 32.88Z" fill="#7B47B6"/><path d="M114 29.08L117.8 33.08L114 37.08L110.2 33.08Z" fill="#7B47B6"/><path d="M116.04 29.29L119.84 33.29L116.04 37.29L112.24 33.29Z" fill="#7B47B6"/><path d="M118.08 29.5L121.88 33.5L118.08 37.5L114.28 33.5Z" fill="#7B47B6"/><path d="M120.12 29.71L123.92 33.71L120.12 37.71L116.33 33.71Z" fill="#7B47B6"/><path d="M122.17 29.93L125.97 33.93L122.17 37.93L118.37 33.93Z" fill="#7B47B6"/><path d="M124.21 30.14L128.01 34.14L124.21 38.14L120.41 34.14Z" fill="#7B47B6"/><path d="M126.25 30.36L130.05 34.36L126.25 38.36L122.45 34.36Z" fill="#7B47B6"/><path d="M130.33 30.8L134.13 34.8L130.33 38.8L126.53 34.8Z" fill="#7B47B6"/><path d="M146.67 32.28L150.47 36.28L146.67 40.28L142.87 36.28Z" fill="#7B47B6"/><path d="M163 33.39L166.8 37.39L163 41.39L159.2 37.39Z" fill="#7B47B6"/><path d="M179.33 34.87L183.13 38.87L179.33 42.87L175.53 38.87Z" fill="#7B47B6"/><path d="M195.67 35.61L199.47 39.61L195.67 43.61L191.87 39.61Z" fill="#7B47B6"/><path d="M212 36.72L215.8 40.72L212 44.72L208.2 40.72Z" fill="#7B47B6"/><path d="M228.33 38.19L232.13 42.19L228.33 46.19L224.53 42.19Z" fill="#7B47B6"/><path d="M244.67 39.67L248.47 43.67L244.67 47.67L240.87 43.67Z" fill="#7B47B6"/><path d="M261 40.78L264.8 44.78L261 48.78L257.2 44.78Z" fill="#7B47B6"/><path d="M277.33 41.89L281.13 45.89L277.33 49.89L273.53 45.89Z" fill="#7B47B6"/><path d="M293.67 43.74L297.47 47.74L293.67 51.74L289.87 47.74Z" fill="#7B47B6"/><path d="M310 45.58L313.8 49.58L310 53.58L306.2 49.58Z" fill="#7B47B6"/><path d="M326.33 47.8L330.13 51.8L326.33 55.8L322.53 51.8Z" fill="#7B47B6"/><path d="M342.67 49.28L346.47 53.28L342.67 57.28L338.87 53.28Z" fill="#7B47B6"/><path d="M359 51.5L362.8 55.5L359 59.5L355.2 55.5Z" fill="#7B47B6"/></g><path d="M48.67 30L65 30L81.33 30.21L83.38 30.27L85.42 30.35L87.46 30.43L89.5 30.53L91.54 30.63L93.58 30.73L95.62 30.83L97.67 30.94L99.71 31.05L101.75 31.17L103.79 31.28L105.83 31.4L107.88 31.52L109.92 31.65L111.96 31.77L114 31.9L116.04 32.02L118.08 32.15L120.12 32.28L122.17 32.42L124.21 32.55L126.25 32.68L130.33 32.96L146.67 33.7L163 34.06L179.33 34.43L195.67 35.91L212 37.76L228.33 38.13L244.67 39.61L261 40.35L277.33 41.09L293.67 42.19L310 43.3L326.33 44.78L342.67 45.89L359 47" stroke="#10A5CF" stroke-width="2.6" fill="none" stroke-linejoin="round" clip-path="url(#ct)"/><g><rect x="78.13" y="27.01" width="6.4" height="6.4" fill="#10A5CF"/><rect x="80.17" y="27.07" width="6.4" height="6.4" fill="#10A5CF"/><rect x="82.22" y="27.15" width="6.4" height="6.4" fill="#10A5CF"/><rect x="84.26" y="27.23" width="6.4" height="6.4" fill="#10A5CF"/><rect x="86.3" y="27.33" width="6.4" height="6.4" fill="#10A5CF"/><rect x="88.34" y="27.43" width="6.4" height="6.4" fill="#10A5CF"/><rect x="90.38" y="27.53" width="6.4" height="6.4" fill="#10A5CF"/><rect x="92.42" y="27.63" width="6.4" height="6.4" fill="#10A5CF"/><rect x="94.47" y="27.74" width="6.4" height="6.4" fill="#10A5CF"/><rect x="96.51" y="27.85" width="6.4" height="6.4" fill="#10A5CF"/><rect x="98.55" y="27.97" width="6.4" height="6.4" fill="#10A5CF"/><rect x="100.59" y="28.08" width="6.4" height="6.4" fill="#10A5CF"/><rect x="102.63" y="28.2" width="6.4" height="6.4" fill="#10A5CF"/><rect x="104.67" y="28.32" width="6.4" height="6.4" fill="#10A5CF"/><rect x="106.72" y="28.45" width="6.4" height="6.4" fill="#10A5CF"/><rect x="108.76" y="28.57" width="6.4" height="6.4" fill="#10A5CF"/><rect x="110.8" y="28.7" width="6.4" height="6.4" fill="#10A5CF"/><rect x="112.84" y="28.82" width="6.4" height="6.4" fill="#10A5CF"/><rect x="114.88" y="28.95" width="6.4" height="6.4" fill="#10A5CF"/><rect x="116.92" y="29.08" width="6.4" height="6.4" fill="#10A5CF"/><rect x="118.97" y="29.22" width="6.4" height="6.4" fill="#10A5CF"/><rect x="121.01" y="29.35" width="6.4" height="6.4" fill="#10A5CF"/><rect x="123.05" y="29.48" width="6.4" height="6.4" fill="#10A5CF"/><rect x="127.13" y="29.76" width="6.4" height="6.4" fill="#10A5CF"/><rect x="143.47" y="30.5" width="6.4" height="6.4" fill="#10A5CF"/><rect x="159.8" y="30.86" width="6.4" height="6.4" fill="#10A5CF"/><rect x="176.13" y="31.23" width="6.4" height="6.4" fill="#10A5CF"/><rect x="192.47" y="32.71" width="6.4" height="6.4" fill="#10A5CF"/><rect x="208.8" y="34.56" width="6.4" height="6.4" fill="#10A5CF"/><rect x="225.13" y="34.93" width="6.4" height="6.4" fill="#10A5CF"/><rect x="241.47" y="36.41" width="6.4" height="6.4" fill="#10A5CF"/><rect x="257.8" y="37.15" width="6.4" height="6.4" fill="#10A5CF"/><rect x="274.13" y="37.88" width="6.4" height="6.4" fill="#10A5CF"/><rect x="290.47" y="38.99" width="6.4" height="6.4" fill="#10A5CF"/><rect x="306.8" y="40.1" width="6.4" height="6.4" fill="#10A5CF"/><rect x="323.13" y="41.58" width="6.4" height="6.4" fill="#10A5CF"/><rect x="339.47" y="42.69" width="6.4" height="6.4" fill="#10A5CF"/><rect x="355.8" y="43.8" width="6.4" height="6.4" fill="#10A5CF"/></g><path d="M48.67 30L65 30L81.33 30.13L83.38 30.17L85.42 30.22L87.46 30.27L89.5 30.33L91.54 30.39L93.58 30.45L95.62 30.52L97.67 30.59L99.71 30.66L101.75 30.73L103.79 30.8L105.83 30.88L107.88 30.95L109.92 31.03L111.96 31.11L114 31.19L116.04 31.27L118.08 31.35L120.12 31.43L122.17 31.51L124.21 31.59L126.25 31.68L130.33 31.85L146.67 32.22L163 32.22L179.33 32.59L195.67 32.59L212 32.96L228.33 33.33L244.67 34.43L261 34.8L277.33 35.54L293.67 36.65L310 37.39L326.33 38.87L342.67 39.61L359 40.72" stroke="#F88B26" stroke-width="2.6" fill="none" stroke-linejoin="round" clip-path="url(#ct)"/><g><path d="M48.67 26.1L52.57 33.12L44.77 33.12Z" fill="#F88B26"/><path d="M65 26.1L68.9 33.12L61.1 33.12Z" fill="#F88B26"/><path d="M81.33 26.23L85.23 33.25L77.43 33.25Z" fill="#F88B26"/><path d="M83.38 26.27L87.28 33.29L79.47 33.29Z" fill="#F88B26"/><path d="M85.42 26.32L89.32 33.34L81.52 33.34Z" fill="#F88B26"/><path d="M87.46 26.37L91.36 33.39L83.56 33.39Z" fill="#F88B26"/><path d="M89.5 26.43L93.4 33.45L85.6 33.45Z" fill="#F88B26"/><path d="M91.54 26.49L95.44 33.51L87.64 33.51Z" fill="#F88B26"/><path d="M93.58 26.55L97.48 33.57L89.68 33.57Z" fill="#F88B26"/><path d="M95.62 26.62L99.53 33.64L91.72 33.64Z" fill="#F88B26"/><path d="M97.67 26.69L101.57 33.71L93.77 33.71Z" fill="#F88B26"/><path d="M99.71 26.76L103.61 33.78L95.81 33.78Z" fill="#F88B26"/><path d="M101.75 26.83L105.65 33.85L97.85 33.85Z" fill="#F88B26"/><path d="M103.79 26.9L107.69 33.92L99.89 33.92Z" fill="#F88B26"/><path d="M105.83 26.98L109.73 34L101.93 34Z" fill="#F88B26"/><path d="M107.88 27.05L111.78 34.07L103.97 34.07Z" fill="#F88B26"/><path d="M109.92 27.13L113.82 34.15L106.02 34.15Z" fill="#F88B26"/><path d="M111.96 27.21L115.86 34.23L108.06 34.23Z" fill="#F88B26"/><path d="M114 27.29L117.9 34.31L110.1 34.31Z" fill="#F88B26"/><path d="M116.04 27.37L119.94 34.39L112.14 34.39Z" fill="#F88B26"/><path d="M118.08 27.45L121.98 34.47L114.18 34.47Z" fill="#F88B26"/><path d="M120.12 27.53L124.03 34.55L116.22 34.55Z" fill="#F88B26"/><path d="M122.17 27.61L126.07 34.63L118.27 34.63Z" fill="#F88B26"/><path d="M124.21 27.69L128.11 34.71L120.31 34.71Z" fill="#F88B26"/><path d="M126.25 27.78L130.15 34.8L122.35 34.8Z" fill="#F88B26"/><path d="M130.33 27.95L134.23 34.97L126.43 34.97Z" fill="#F88B26"/><path d="M146.67 28.32L150.57 35.34L142.77 35.34Z" fill="#F88B26"/><path d="M163 28.32L166.9 35.34L159.1 35.34Z" fill="#F88B26"/><path d="M179.33 28.69L183.23 35.71L175.43 35.71Z" fill="#F88B26"/><path d="M195.67 28.69L199.57 35.71L191.77 35.71Z" fill="#F88B26"/><path d="M212 29.06L215.9 36.08L208.1 36.08Z" fill="#F88B26"/><path d="M228.33 29.43L232.23 36.45L224.43 36.45Z" fill="#F88B26"/><path d="M244.67 30.53L248.57 37.55L240.77 37.55Z" fill="#F88B26"/><path d="M261 30.9L264.9 37.92L257.1 37.92Z" fill="#F88B26"/><path d="M277.33 31.64L281.23 38.66L273.43 38.66Z" fill="#F88B26"/><path d="M293.67 32.75L297.57 39.77L289.77 39.77Z" fill="#F88B26"/><path d="M310 33.49L313.9 40.51L306.1 40.51Z" fill="#F88B26"/><path d="M326.33 34.97L330.23 41.99L322.43 41.99Z" fill="#F88B26"/><path d="M342.67 35.71L346.57 42.73L338.77 42.73Z" fill="#F88B26"/><path d="M359 36.82L362.9 43.84L355.1 43.84Z" fill="#F88B26"/></g><path d="M48.67 30L65 30L81.33 30.05L83.38 30.07L85.42 30.09L87.46 30.11L89.5 30.13L91.54 30.16L93.58 30.18L95.62 30.21L97.67 30.24L99.71 30.26L101.75 30.29L103.79 30.32L105.83 30.35L107.88 30.38L109.92 30.41L111.96 30.44L114 30.47L116.04 30.51L118.08 30.54L120.12 30.57L122.17 30.6L124.21 30.64L126.25 30.67L130.33 30.74L146.67 31.11L163 31.11L179.33 31.11L195.67 31.48L212 31.48L228.33 31.85L244.67 31.85L261 32.22L277.33 32.59L293.67 32.96L310 33.33L326.33 34.43L342.67 34.8L359 35.54" stroke="#84A4DA" stroke-width="2.6" fill="none" stroke-linejoin="round" clip-path="url(#ct)"/><g><path d="M78.23 26.95L84.43 33.15M78.23 33.15L84.43 26.95" stroke="#84A4DA" stroke-width="1.5" fill="none"/><path d="M80.28 26.97L86.47 33.17M80.28 33.17L86.47 26.97" stroke="#84A4DA" stroke-width="1.5" fill="none"/><path d="M82.32 26.99L88.52 33.19M82.32 33.19L88.52 26.99" stroke="#84A4DA" stroke-width="1.5" fill="none"/><path d="M84.36 27.01L90.56 33.21M84.36 33.21L90.56 27.01" stroke="#84A4DA" stroke-width="1.5" fill="none"/><path d="M86.4 27.03L92.6 33.23M86.4 33.23L92.6 27.03" stroke="#84A4DA" stroke-width="1.5" fill="none"/><path d="M88.44 27.06L94.64 33.26M88.44 33.26L94.64 27.06" stroke="#84A4DA" stroke-width="1.5" fill="none"/><path d="M90.48 27.08L96.68 33.28M90.48 33.28L96.68 27.08" stroke="#84A4DA" stroke-width="1.5" fill="none"/><path d="M92.53 27.11L98.72 33.31M92.53 33.31L98.72 27.11" stroke="#84A4DA" stroke-width="1.5" fill="none"/><path d="M94.57 27.14L100.77 33.34M94.57 33.34L100.77 27.14" stroke="#84A4DA" stroke-width="1.5" fill="none"/><path d="M96.61 27.16L102.81 33.36M96.61 33.36L102.81 27.16" stroke="#84A4DA" stroke-width="1.5" fill="none"/><path d="M98.65 27.19L104.85 33.39M98.65 33.39L104.85 27.19" stroke="#84A4DA" stroke-width="1.5" fill="none"/><path d="M100.69 27.22L106.89 33.42M100.69 33.42L106.89 27.22" stroke="#84A4DA" stroke-width="1.5" fill="none"/><path d="M102.73 27.25L108.93 33.45M102.73 33.45L108.93 27.25" stroke="#84A4DA" stroke-width="1.5" fill="none"/><path d="M104.78 27.28L110.97 33.48M104.78 33.48L110.97 27.28" stroke="#84A4DA" stroke-width="1.5" fill="none"/><path d="M106.82 27.31L113.02 33.51M106.82 33.51L113.02 27.31" stroke="#84A4DA" stroke-width="1.5" fill="none"/><path d="M108.86 27.34L115.06 33.54M108.86 33.54L115.06 27.34" stroke="#84A4DA" stroke-width="1.5" fill="none"/><path d="M110.9 27.37L117.1 33.57M110.9 33.57L117.1 27.37" stroke="#84A4DA" stroke-width="1.5" fill="none"/><path d="M112.94 27.41L119.14 33.61M112.94 33.61L119.14 27.41" stroke="#84A4DA" stroke-width="1.5" fill="none"/><path d="M114.98 27.44L121.18 33.64M114.98 33.64L121.18 27.44" stroke="#84A4DA" stroke-width="1.5" fill="none"/><path d="M117.03 27.47L123.22 33.67M117.03 33.67L123.22 27.47" stroke="#84A4DA" stroke-width="1.5" fill="none"/><path d="M119.07 27.5L125.27 33.7M119.07 33.7L125.27 27.5" stroke="#84A4DA" stroke-width="1.5" fill="none"/><path d="M121.11 27.54L127.31 33.74M121.11 33.74L127.31 27.54" stroke="#84A4DA" stroke-width="1.5" fill="none"/><path d="M123.15 27.57L129.35 33.77M123.15 33.77L129.35 27.57" stroke="#84A4DA" stroke-width="1.5" fill="none"/><path d="M127.23 27.64L133.43 33.84M127.23 33.84L133.43 27.64" stroke="#84A4DA" stroke-width="1.5" fill="none"/><path d="M143.57 28.01L149.77 34.21M143.57 34.21L149.77 28.01" stroke="#84A4DA" stroke-width="1.5" fill="none"/><path d="M159.9 28.01L166.1 34.21M159.9 34.21L166.1 28.01" stroke="#84A4DA" stroke-width="1.5" fill="none"/><path d="M176.23 28.01L182.43 34.21M176.23 34.21L182.43 28.01" stroke="#84A4DA" stroke-width="1.5" fill="none"/><path d="M192.57 28.38L198.77 34.58M192.57 34.58L198.77 28.38" stroke="#84A4DA" stroke-width="1.5" fill="none"/><path d="M208.9 28.38L215.1 34.58M208.9 34.58L215.1 28.38" stroke="#84A4DA" stroke-width="1.5" fill="none"/><path d="M225.23 28.75L231.43 34.95M225.23 34.95L231.43 28.75" stroke="#84A4DA" stroke-width="1.5" fill="none"/><path d="M241.57 28.75L247.77 34.95M241.57 34.95L247.77 28.75" stroke="#84A4DA" stroke-width="1.5" fill="none"/><path d="M257.9 29.12L264.1 35.32M257.9 35.32L264.1 29.12" stroke="#84A4DA" stroke-width="1.5" fill="none"/><path d="M274.23 29.49L280.43 35.69M274.23 35.69L280.43 29.49" stroke="#84A4DA" stroke-width="1.5" fill="none"/><path d="M290.57 29.86L296.77 36.06M290.57 36.06L296.77 29.86" stroke="#84A4DA" stroke-width="1.5" fill="none"/><path d="M306.9 30.23L313.1 36.43M306.9 36.43L313.1 30.23" stroke="#84A4DA" stroke-width="1.5" fill="none"/><path d="M323.23 31.33L329.43 37.53M323.23 37.53L329.43 31.33" stroke="#84A4DA" stroke-width="1.5" fill="none"/><path d="M339.57 31.7L345.77 37.9M339.57 37.9L345.77 31.7" stroke="#84A4DA" stroke-width="1.5" fill="none"/><path d="M355.9 32.44L362.1 38.64M355.9 38.64L362.1 32.44" stroke="#84A4DA" stroke-width="1.5" fill="none"/></g><path d="M48.67 30L65 30L81.33 30.01L83.38 30.02L85.42 30.02L87.46 30.03L89.5 30.03L91.54 30.04L93.58 30.05L95.62 30.05L97.67 30.06L99.71 30.07L101.75 30.07L103.79 30.08L105.83 30.09L107.88 30.1L109.92 30.1L111.96 30.11L114 30.12L116.04 30.13L118.08 30.13L120.12 30.14L122.17 30.15L124.21 30.16L126.25 30.17L130.33 30.18L146.67 30.18L163 30.18L179.33 30.18L195.67 30.37L212 30.37L228.33 30.37L244.67 30.37L261 30.37L277.33 30.55L293.67 30.55L310 30.74L326.33 30.74L342.67 30.92L359 31.11" stroke="#EE9090" stroke-width="2.6" fill="none" stroke-linejoin="round" clip-path="url(#ct)"/><g><path d="M78.13 26.81L84.53 33.21M78.13 33.21L84.53 26.81M81.33 26.81L81.33 33.21" stroke="#EE9090" stroke-width="1.4" fill="none"/><path d="M80.17 26.82L86.58 33.22M80.17 33.22L86.58 26.82M83.38 26.82L83.38 33.22" stroke="#EE9090" stroke-width="1.4" fill="none"/><path d="M82.22 26.82L88.62 33.22M82.22 33.22L88.62 26.82M85.42 26.82L85.42 33.22" stroke="#EE9090" stroke-width="1.4" fill="none"/><path d="M84.26 26.83L90.66 33.23M84.26 33.23L90.66 26.83M87.46 26.83L87.46 33.23" stroke="#EE9090" stroke-width="1.4" fill="none"/><path d="M86.3 26.83L92.7 33.23M86.3 33.23L92.7 26.83M89.5 26.83L89.5 33.23" stroke="#EE9090" stroke-width="1.4" fill="none"/><path d="M88.34 26.84L94.74 33.24M88.34 33.24L94.74 26.84M91.54 26.84L91.54 33.24" stroke="#EE9090" stroke-width="1.4" fill="none"/><path d="M90.38 26.85L96.78 33.25M90.38 33.25L96.78 26.85M93.58 26.85L93.58 33.25" stroke="#EE9090" stroke-width="1.4" fill="none"/><path d="M92.42 26.85L98.83 33.25M92.42 33.25L98.83 26.85M95.62 26.85L95.62 33.25" stroke="#EE9090" stroke-width="1.4" fill="none"/><path d="M94.47 26.86L100.87 33.26M94.47 33.26L100.87 26.86M97.67 26.86L97.67 33.26" stroke="#EE9090" stroke-width="1.4" fill="none"/><path d="M96.51 26.87L102.91 33.27M96.51 33.27L102.91 26.87M99.71 26.87L99.71 33.27" stroke="#EE9090" stroke-width="1.4" fill="none"/><path d="M98.55 26.87L104.95 33.27M98.55 33.27L104.95 26.87M101.75 26.87L101.75 33.27" stroke="#EE9090" stroke-width="1.4" fill="none"/><path d="M100.59 26.88L106.99 33.28M100.59 33.28L106.99 26.88M103.79 26.88L103.79 33.28" stroke="#EE9090" stroke-width="1.4" fill="none"/><path d="M102.63 26.89L109.03 33.29M102.63 33.29L109.03 26.89M105.83 26.89L105.83 33.29" stroke="#EE9090" stroke-width="1.4" fill="none"/><path d="M104.67 26.9L111.08 33.3M104.67 33.3L111.08 26.9M107.88 26.9L107.88 33.3" stroke="#EE9090" stroke-width="1.4" fill="none"/><path d="M106.72 26.9L113.12 33.3M106.72 33.3L113.12 26.9M109.92 26.9L109.92 33.3" stroke="#EE9090" stroke-width="1.4" fill="none"/><path d="M108.76 26.91L115.16 33.31M108.76 33.31L115.16 26.91M111.96 26.91L111.96 33.31" stroke="#EE9090" stroke-width="1.4" fill="none"/><path d="M110.8 26.92L117.2 33.32M110.8 33.32L117.2 26.92M114 26.92L114 33.32" stroke="#EE9090" stroke-width="1.4" fill="none"/><path d="M112.84 26.93L119.24 33.33M112.84 33.33L119.24 26.93M116.04 26.93L116.04 33.33" stroke="#EE9090" stroke-width="1.4" fill="none"/><path d="M114.88 26.93L121.28 33.33M114.88 33.33L121.28 26.93M118.08 26.93L118.08 33.33" stroke="#EE9090" stroke-width="1.4" fill="none"/><path d="M116.92 26.94L123.33 33.34M116.92 33.34L123.33 26.94M120.12 26.94L120.12 33.34" stroke="#EE9090" stroke-width="1.4" fill="none"/><path d="M118.97 26.95L125.37 33.35M118.97 33.35L125.37 26.95M122.17 26.95L122.17 33.35" stroke="#EE9090" stroke-width="1.4" fill="none"/><path d="M121.01 26.96L127.41 33.36M121.01 33.36L127.41 26.96M124.21 26.96L124.21 33.36" stroke="#EE9090" stroke-width="1.4" fill="none"/><path d="M123.05 26.97L129.45 33.37M123.05 33.37L129.45 26.97M126.25 26.97L126.25 33.37" stroke="#EE9090" stroke-width="1.4" fill="none"/><path d="M127.13 26.98L133.53 33.38M127.13 33.38L133.53 26.98M130.33 26.98L130.33 33.38" stroke="#EE9090" stroke-width="1.4" fill="none"/><path d="M143.47 26.98L149.87 33.38M143.47 33.38L149.87 26.98M146.67 26.98L146.67 33.38" stroke="#EE9090" stroke-width="1.4" fill="none"/><path d="M159.8 26.98L166.2 33.38M159.8 33.38L166.2 26.98M163 26.98L163 33.38" stroke="#EE9090" stroke-width="1.4" fill="none"/><path d="M176.13 26.98L182.53 33.38M176.13 33.38L182.53 26.98M179.33 26.98L179.33 33.38" stroke="#EE9090" stroke-width="1.4" fill="none"/><path d="M192.47 27.17L198.87 33.57M192.47 33.57L198.87 27.17M195.67 27.17L195.67 33.57" stroke="#EE9090" stroke-width="1.4" fill="none"/><path d="M208.8 27.17L215.2 33.57M208.8 33.57L215.2 27.17M212 27.17L212 33.57" stroke="#EE9090" stroke-width="1.4" fill="none"/><path d="M225.13 27.17L231.53 33.57M225.13 33.57L231.53 27.17M228.33 27.17L228.33 33.57" stroke="#EE9090" stroke-width="1.4" fill="none"/><path d="M241.47 27.17L247.87 33.57M241.47 33.57L247.87 27.17M244.67 27.17L244.67 33.57" stroke="#EE9090" stroke-width="1.4" fill="none"/><path d="M257.8 27.17L264.2 33.57M257.8 33.57L264.2 27.17M261 27.17L261 33.57" stroke="#EE9090" stroke-width="1.4" fill="none"/><path d="M274.13 27.35L280.53 33.75M274.13 33.75L280.53 27.35M277.33 27.35L277.33 33.75" stroke="#EE9090" stroke-width="1.4" fill="none"/><path d="M290.47 27.35L296.87 33.75M290.47 33.75L296.87 27.35M293.67 27.35L293.67 33.75" stroke="#EE9090" stroke-width="1.4" fill="none"/><path d="M306.8 27.54L313.2 33.94M306.8 33.94L313.2 27.54M310 27.54L310 33.94" stroke="#EE9090" stroke-width="1.4" fill="none"/><path d="M323.13 27.54L329.53 33.94M323.13 33.94L329.53 27.54M326.33 27.54L326.33 33.94" stroke="#EE9090" stroke-width="1.4" fill="none"/><path d="M339.47 27.72L345.87 34.12M339.47 34.12L345.87 27.72M342.67 27.72L342.67 34.12" stroke="#EE9090" stroke-width="1.4" fill="none"/><path d="M355.8 27.91L362.2 34.31M355.8 34.31L362.2 27.91M359 27.91L359 34.31" stroke="#EE9090" stroke-width="1.4" fill="none"/></g><path d="M48.67 30L65 30L81.33 30L83.38 30L85.42 30L87.46 30L89.5 30L91.54 30L93.58 30L95.62 30L97.67 30L99.71 30L101.75 30L103.79 30L105.83 30L107.88 30L109.92 30L111.96 30L114 30L116.04 30L118.08 30L120.12 30L122.17 30L124.21 30L126.25 30L130.33 30L146.67 30L163 30L179.33 30L195.67 30L212 30L228.33 30L244.67 30L261 30L277.33 30L293.67 30L310 30L326.33 30L342.67 30L359 30" stroke="#B4D19C" stroke-width="2.6" fill="none" stroke-linejoin="round" clip-path="url(#ct)"/><g><rect x="45.37" y="27" width="6.6" height="5.8" rx="1.4" fill="#B4D19C"/><rect x="61.7" y="27" width="6.6" height="5.8" rx="1.4" fill="#B4D19C"/><rect x="78.03" y="27" width="6.6" height="5.8" rx="1.4" fill="#B4D19C"/><rect x="80.08" y="27" width="6.6" height="5.8" rx="1.4" fill="#B4D19C"/><rect x="82.12" y="27" width="6.6" height="5.8" rx="1.4" fill="#B4D19C"/><rect x="84.16" y="27" width="6.6" height="5.8" rx="1.4" fill="#B4D19C"/><rect x="86.2" y="27" width="6.6" height="5.8" rx="1.4" fill="#B4D19C"/><rect x="88.24" y="27" width="6.6" height="5.8" rx="1.4" fill="#B4D19C"/><rect x="90.28" y="27" width="6.6" height="5.8" rx="1.4" fill="#B4D19C"/><rect x="92.33" y="27" width="6.6" height="5.8" rx="1.4" fill="#B4D19C"/><rect x="94.37" y="27" width="6.6" height="5.8" rx="1.4" fill="#B4D19C"/><rect x="96.41" y="27" width="6.6" height="5.8" rx="1.4" fill="#B4D19C"/><rect x="98.45" y="27" width="6.6" height="5.8" rx="1.4" fill="#B4D19C"/><rect x="100.49" y="27" width="6.6" height="5.8" rx="1.4" fill="#B4D19C"/><rect x="102.53" y="27" width="6.6" height="5.8" rx="1.4" fill="#B4D19C"/><rect x="104.58" y="27" width="6.6" height="5.8" rx="1.4" fill="#B4D19C"/><rect x="106.62" y="27" width="6.6" height="5.8" rx="1.4" fill="#B4D19C"/><rect x="108.66" y="27" width="6.6" height="5.8" rx="1.4" fill="#B4D19C"/><rect x="110.7" y="27" width="6.6" height="5.8" rx="1.4" fill="#B4D19C"/><rect x="112.74" y="27" width="6.6" height="5.8" rx="1.4" fill="#B4D19C"/><rect x="114.78" y="27" width="6.6" height="5.8" rx="1.4" fill="#B4D19C"/><rect x="116.83" y="27" width="6.6" height="5.8" rx="1.4" fill="#B4D19C"/><rect x="118.87" y="27" width="6.6" height="5.8" rx="1.4" fill="#B4D19C"/><rect x="120.91" y="27" width="6.6" height="5.8" rx="1.4" fill="#B4D19C"/><rect x="122.95" y="27" width="6.6" height="5.8" rx="1.4" fill="#B4D19C"/><rect x="127.03" y="27" width="6.6" height="5.8" rx="1.4" fill="#B4D19C"/><rect x="143.37" y="27" width="6.6" height="5.8" rx="1.4" fill="#B4D19C"/><rect x="159.7" y="27" width="6.6" height="5.8" rx="1.4" fill="#B4D19C"/><rect x="176.03" y="27" width="6.6" height="5.8" rx="1.4" fill="#B4D19C"/><rect x="192.37" y="27" width="6.6" height="5.8" rx="1.4" fill="#B4D19C"/><rect x="208.7" y="27" width="6.6" height="5.8" rx="1.4" fill="#B4D19C"/><rect x="225.03" y="27" width="6.6" height="5.8" rx="1.4" fill="#B4D19C"/><rect x="241.37" y="27" width="6.6" height="5.8" rx="1.4" fill="#B4D19C"/><rect x="257.7" y="27" width="6.6" height="5.8" rx="1.4" fill="#B4D19C"/><rect x="274.03" y="27" width="6.6" height="5.8" rx="1.4" fill="#B4D19C"/><rect x="290.37" y="27" width="6.6" height="5.8" rx="1.4" fill="#B4D19C"/><rect x="306.7" y="27" width="6.6" height="5.8" rx="1.4" fill="#B4D19C"/><rect x="323.03" y="27" width="6.6" height="5.8" rx="1.4" fill="#B4D19C"/><rect x="339.37" y="27" width="6.6" height="5.8" rx="1.4" fill="#B4D19C"/><rect x="355.7" y="27" width="6.6" height="5.8" rx="1.4" fill="#B4D19C"/></g><g font-family="'Liberation Serif', serif" font-size="9.6" fill="#000" stroke="#000" stroke-width="0.2"><text transform="translate(39.5 22.9) scale(0.94 1)" text-anchor="middle">0.0</text><text transform="translate(80.33 22.9) scale(0.94 1)" text-anchor="middle">1.0</text><text transform="translate(121.17 22.9) scale(0.94 1)" text-anchor="middle">2.0</text><text transform="translate(162 22.9) scale(0.94 1)" text-anchor="middle">3.0</text><text transform="translate(202.83 22.9) scale(0.94 1)" text-anchor="middle">4.0</text><text transform="translate(243.67 22.9) scale(0.94 1)" text-anchor="middle">5.0</text><text transform="translate(284.5 22.9) scale(0.94 1)" text-anchor="middle">6.0</text><text transform="translate(325.33 22.9) scale(0.94 1)" text-anchor="middle">7.0</text><text transform="translate(366.17 22.9) scale(0.94 1)" text-anchor="middle">8.0</text><text transform="translate(407 22.9) scale(0.94 1)" text-anchor="middle">9.0</text><text transform="translate(30.3 33.6) scale(0.94 1)" text-anchor="end">0</text><text transform="translate(30.3 70.55) scale(0.94 1)" text-anchor="end">100</text><text transform="translate(30.3 107.5) scale(0.94 1)" text-anchor="end">200</text><text transform="translate(30.3 144.45) scale(0.94 1)" text-anchor="end">300</text><text transform="translate(30.3 181.4) scale(0.94 1)" text-anchor="end">400</text><text transform="translate(30.3 218.35) scale(0.94 1)" text-anchor="end">500</text><text transform="translate(30.3 255.3) scale(0.94 1)" text-anchor="end">600</text></g><text font-family="'Liberation Serif', serif" font-size="9.7" font-weight="bold" fill="#111" text-anchor="middle" transform="translate(224 10.7) scale(0.93 1)">Strength reduction factor Fs</text><text font-family="'Liberation Serif', serif" font-size="9.6" font-weight="bold" fill="#111" text-anchor="middle" transform="translate(9.8 141.7) rotate(-90) scale(0.94 1)" x="0" y="3.2">Inner force of cable /kN</text><path d="M428 20.5H446.8" stroke="#1B5FA6" stroke-width="2.2"/><path d="M437.4 17.1L440.63 20.5L437.4 23.9L434.17 20.5Z" fill="#1B5FA6"/><text font-family="'Liberation Serif', serif" font-size="9.5" fill="#000" stroke="#000" stroke-width="0.2" transform="translate(448 23.8) scale(0.95 1)">Cable 1</text><path d="M428 35.64H446.8" stroke="#C4302C" stroke-width="2.2"/><rect x="434.68" y="32.92" width="5.44" height="5.44" fill="#C4302C"/><text font-family="'Liberation Serif', serif" font-size="9.5" fill="#000" stroke="#000" stroke-width="0.2" transform="translate(448 38.94) scale(0.95 1)">Cable 2</text><path d="M428 50.78H446.8" stroke="#6EA535" stroke-width="2.2"/><path d="M437.4 47.47L440.71 53.43L434.08 53.43Z" fill="#6EA535"/><text font-family="'Liberation Serif', serif" font-size="9.5" fill="#000" stroke="#000" stroke-width="0.2" transform="translate(448 54.08) scale(0.95 1)">Cable 3</text><path d="M428 65.92H446.8" stroke="#6A3D9E" stroke-width="2.2"/><path d="M434.76 63.29L440.03 68.56M434.76 68.56L440.03 63.29" stroke="#6A3D9E" stroke-width="1.5" fill="none"/><text font-family="'Liberation Serif', serif" font-size="9.5" fill="#000" stroke="#000" stroke-width="0.2" transform="translate(448 69.22) scale(0.95 1)">Cable 4</text><path d="M428 81.06H446.8" stroke="#1B90A2" stroke-width="2.2"/><path d="M434.68 78.34L440.12 83.78M434.68 83.78L440.12 78.34M437.4 78.34L437.4 83.78" stroke="#1B90A2" stroke-width="1.4" fill="none"/><text font-family="'Liberation Serif', serif" font-size="9.5" fill="#000" stroke="#000" stroke-width="0.2" transform="translate(448 84.36) scale(0.95 1)">Cable 5</text><path d="M428 96.2H446.8" stroke="#F07522" stroke-width="2.2"/><circle cx="437.4" cy="96.2" r="3.15" fill="#F07522"/><text font-family="'Liberation Serif', serif" font-size="9.5" fill="#000" stroke="#000" stroke-width="0.2" transform="translate(448 99.5) scale(0.95 1)">Cable 6</text><path d="M428 111.34H446.8" stroke="#1C74C2" stroke-width="2.2"/><path d="M437.4 108.11L437.4 114.57" stroke="#1C74C2" stroke-width="1.5" fill="none"/><text font-family="'Liberation Serif', serif" font-size="9.5" fill="#000" stroke="#000" stroke-width="0.2" transform="translate(448 114.64) scale(0.95 1)">Cable 7</text><path d="M428 126.48H446.8" stroke="#E0342F" stroke-width="2.2"/><text font-family="'Liberation Serif', serif" font-size="9.5" fill="#000" stroke="#000" stroke-width="0.2" transform="translate(448 129.78) scale(0.95 1)">Cable 8</text><path d="M428 141.62H446.8" stroke="#7DBA34" stroke-width="2.2"/><text font-family="'Liberation Serif', serif" font-size="9.5" fill="#000" stroke="#000" stroke-width="0.2" transform="translate(448 144.92) scale(0.95 1)">Cable 9</text><path d="M428 156.76H446.8" stroke="#7B47B6" stroke-width="2.2"/><path d="M437.4 153.36L440.63 156.76L437.4 160.16L434.17 156.76Z" fill="#7B47B6"/><text font-family="'Liberation Serif', serif" font-size="9.5" fill="#000" stroke="#000" stroke-width="0.2" transform="translate(448 160.06) scale(0.95 1)">Cable 10</text><path d="M428 171.9H446.8" stroke="#10A5CF" stroke-width="2.2"/><rect x="434.68" y="169.18" width="5.44" height="5.44" fill="#10A5CF"/><text font-family="'Liberation Serif', serif" font-size="9.5" fill="#000" stroke="#000" stroke-width="0.2" transform="translate(448 175.2) scale(0.95 1)">Cable 11</text><path d="M428 187.04H446.8" stroke="#F88B26" stroke-width="2.2"/><path d="M437.4 183.73L440.71 189.69L434.08 189.69Z" fill="#F88B26"/><text font-family="'Liberation Serif', serif" font-size="9.5" fill="#000" stroke="#000" stroke-width="0.2" transform="translate(448 190.34) scale(0.95 1)">Cable 12</text><path d="M428 202.18H446.8" stroke="#84A4DA" stroke-width="2.2"/><path d="M434.76 199.55L440.03 204.81M434.76 204.81L440.03 199.55" stroke="#84A4DA" stroke-width="1.5" fill="none"/><text font-family="'Liberation Serif', serif" font-size="9.5" fill="#000" stroke="#000" stroke-width="0.2" transform="translate(448 205.48) scale(0.95 1)">Cable 13</text><path d="M428 217.32H446.8" stroke="#EE9090" stroke-width="2.2"/><path d="M434.68 214.6L440.12 220.04M434.68 220.04L440.12 214.6M437.4 214.6L437.4 220.04" stroke="#EE9090" stroke-width="1.4" fill="none"/><text font-family="'Liberation Serif', serif" font-size="9.5" fill="#000" stroke="#000" stroke-width="0.2" transform="translate(448 220.62) scale(0.95 1)">Cable 14</text><path d="M428 232.46H446.8" stroke="#B4D19C" stroke-width="2.2"/><circle cx="437.4" cy="232.46" r="3.15" fill="#B4D19C"/><text font-family="'Liberation Serif', serif" font-size="9.5" fill="#000" stroke="#000" stroke-width="0.2" transform="translate(448 235.76) scale(0.95 1)">Cable 15</text><rect x="47.8" y="302" width="364.2" height="219.4" fill="#fff"/><path d="M55.89 302V521.4M63.99 302V521.4M72.08 302V521.4M80.17 302V521.4M96.36 302V521.4M104.45 302V521.4M112.55 302V521.4M120.64 302V521.4M136.83 302V521.4M144.92 302V521.4M153.01 302V521.4M161.11 302V521.4M177.29 302V521.4M185.39 302V521.4M193.48 302V521.4M201.57 302V521.4M217.76 302V521.4M225.85 302V521.4M233.95 302V521.4M242.04 302V521.4M258.23 302V521.4M266.32 302V521.4M274.41 302V521.4M282.51 302V521.4M298.69 302V521.4M306.79 302V521.4M314.88 302V521.4M322.97 302V521.4M339.16 302V521.4M347.25 302V521.4M355.35 302V521.4M363.44 302V521.4M379.63 302V521.4M387.72 302V521.4M395.81 302V521.4M403.91 302V521.4" stroke="#F1EDE1" stroke-width="1" fill="none"/><path d="M47.8 309.31H412M47.8 316.63H412M47.8 323.94H412M47.8 331.25H412M47.8 345.88H412M47.8 353.19H412M47.8 360.51H412M47.8 367.82H412M47.8 382.45H412M47.8 389.76H412M47.8 397.07H412M47.8 404.39H412M47.8 419.01H412M47.8 426.33H412M47.8 433.64H412M47.8 440.95H412M47.8 455.58H412M47.8 462.89H412M47.8 470.21H412M47.8 477.52H412M47.8 492.15H412M47.8 499.46H412M47.8 506.77H412M47.8 514.09H412" stroke="#F1EDE1" stroke-width="1" fill="none"/><path d="M88.27 302V521.4M128.73 302V521.4M169.2 302V521.4M209.67 302V521.4M250.13 302V521.4M290.6 302V521.4M331.07 302V521.4M371.53 302V521.4" stroke="#8E8E8E" stroke-width="1" fill="none"/><path d="M47.8 338.57H412M47.8 375.13H412M47.8 411.7H412M47.8 448.27H412M47.8 484.83H412" stroke="#9A9A9A" stroke-width="1.15" fill="none" stroke-dasharray="6.99 1.1" stroke-dashoffset="7.54"/><path d="M47.8 521.4V302M47.8 302H412" stroke="#8A8A8A" stroke-width="1.1" fill="none"/><path d="M412 302V521.4H47.8" stroke="#505050" stroke-width="1.8" fill="none"/><path d="M55.89 302V303.6M63.99 302V303.6M72.08 302V303.6M80.17 302V303.6M88.27 302V303.6M96.36 302V303.6M104.45 302V303.6M112.55 302V303.6M120.64 302V303.6M128.73 302V303.6M136.83 302V303.6M144.92 302V303.6M153.01 302V303.6M161.11 302V303.6M169.2 302V303.6M177.29 302V303.6M185.39 302V303.6M193.48 302V303.6M201.57 302V303.6M209.67 302V303.6M217.76 302V303.6M225.85 302V303.6M233.95 302V303.6M242.04 302V303.6M250.13 302V303.6M258.23 302V303.6M266.32 302V303.6M274.41 302V303.6M282.51 302V303.6M290.6 302V303.6M298.69 302V303.6M306.79 302V303.6M314.88 302V303.6M322.97 302V303.6M331.07 302V303.6M339.16 302V303.6M347.25 302V303.6M355.35 302V303.6M363.44 302V303.6M371.53 302V303.6M379.63 302V303.6M387.72 302V303.6M395.81 302V303.6M403.91 302V303.6" stroke="#8A8A8A" stroke-width="0.8" fill="none"/><g><path d="M88.27 298.07L92.07 302.07L88.27 306.07L84.47 302.07Z" fill="#7B47B6"/><path d="M90.29 298.07L94.09 302.07L90.29 306.07L86.49 302.07Z" fill="#7B47B6"/><path d="M92.31 298.07L96.11 302.07L92.31 306.07L88.51 302.07Z" fill="#7B47B6"/><path d="M94.34 298.07L98.14 302.07L94.34 306.07L90.54 302.07Z" fill="#7B47B6"/><path d="M96.36 298.07L100.16 302.07L96.36 306.07L92.56 302.07Z" fill="#7B47B6"/><path d="M98.38 298.07L102.18 302.07L98.38 306.07L94.58 302.07Z" fill="#7B47B6"/><path d="M100.41 298.07L104.21 302.07L100.41 306.07L96.61 302.07Z" fill="#7B47B6"/><path d="M102.43 298.07L106.23 302.07L102.43 306.07L98.63 302.07Z" fill="#7B47B6"/><path d="M104.45 298.07L108.25 302.07L104.45 306.07L100.65 302.07Z" fill="#7B47B6"/><path d="M106.48 298.07L110.28 302.07L106.48 306.07L102.68 302.07Z" fill="#7B47B6"/><path d="M108.5 298.07L112.3 302.07L108.5 306.07L104.7 302.07Z" fill="#7B47B6"/><path d="M110.52 298.07L114.32 302.07L110.52 306.07L106.72 302.07Z" fill="#7B47B6"/><path d="M112.55 298.07L116.35 302.07L112.55 306.07L108.75 302.07Z" fill="#7B47B6"/><path d="M114.57 298.07L118.37 302.07L114.57 306.07L110.77 302.07Z" fill="#7B47B6"/><path d="M116.59 298.07L120.39 302.07L116.59 306.07L112.79 302.07Z" fill="#7B47B6"/><path d="M118.62 298.16L122.42 302.16L118.62 306.16L114.82 302.16Z" fill="#7B47B6"/></g><path d="M88.27 303.35L90.29 303.78L92.31 304.54L94.34 305.49L96.36 306.6L98.38 307.84L100.41 309.19L102.43 310.66L104.45 312.22L106.48 313.87L108.5 315.61L110.52 317.43L112.55 319.32L114.57 321.28L116.59 323.32L118.62 325.42L120.64 327.58L122.66 329.81L124.69 332.1L126.71 334.44L128.73 336.84L130.76 339.3L132.78 341.81L136.83 346.98L153.01 359.78L169.2 371.84L185.39 380.98L201.57 388.3L217.76 395.61L233.95 401.46L250.13 410.24L266.32 415.72L282.51 423.04L298.69 425.96L314.88 430.35L331.07 439.49L347.25 442.78L363.44 446.8" stroke="#1B5FA6" stroke-width="2.6" fill="none" stroke-linejoin="round" clip-path="url(#cb)"/><g><path d="M88.27 299.35L92.07 303.35L88.27 307.35L84.47 303.35Z" fill="#1B5FA6"/><path d="M90.29 299.78L94.09 303.78L90.29 307.78L86.49 303.78Z" fill="#1B5FA6"/><path d="M92.31 300.54L96.11 304.54L92.31 308.54L88.51 304.54Z" fill="#1B5FA6"/><path d="M94.34 301.49L98.14 305.49L94.34 309.49L90.54 305.49Z" fill="#1B5FA6"/><path d="M96.36 302.6L100.16 306.6L96.36 310.6L92.56 306.6Z" fill="#1B5FA6"/><path d="M98.38 303.84L102.18 307.84L98.38 311.84L94.58 307.84Z" fill="#1B5FA6"/><path d="M100.41 305.19L104.21 309.19L100.41 313.19L96.61 309.19Z" fill="#1B5FA6"/><path d="M102.43 306.66L106.23 310.66L102.43 314.66L98.63 310.66Z" fill="#1B5FA6"/><path d="M104.45 308.22L108.25 312.22L104.45 316.22L100.65 312.22Z" fill="#1B5FA6"/><path d="M106.48 309.87L110.28 313.87L106.48 317.87L102.68 313.87Z" fill="#1B5FA6"/><path d="M108.5 311.61L112.3 315.61L108.5 319.61L104.7 315.61Z" fill="#1B5FA6"/><path d="M110.52 313.43L114.32 317.43L110.52 321.43L106.72 317.43Z" fill="#1B5FA6"/><path d="M112.55 315.32L116.35 319.32L112.55 323.32L108.75 319.32Z" fill="#1B5FA6"/><path d="M114.57 317.28L118.37 321.28L114.57 325.28L110.77 321.28Z" fill="#1B5FA6"/><path d="M116.59 319.32L120.39 323.32L116.59 327.32L112.79 323.32Z" fill="#1B5FA6"/><path d="M118.62 321.42L122.42 325.42L118.62 329.42L114.82 325.42Z" fill="#1B5FA6"/><path d="M120.64 323.58L124.44 327.58L120.64 331.58L116.84 327.58Z" fill="#1B5FA6"/><path d="M122.66 325.81L126.46 329.81L122.66 333.81L118.86 329.81Z" fill="#1B5FA6"/><path d="M124.69 328.1L128.49 332.1L124.69 336.1L120.89 332.1Z" fill="#1B5FA6"/><path d="M126.71 330.44L130.51 334.44L126.71 338.44L122.91 334.44Z" fill="#1B5FA6"/><path d="M128.73 332.84L132.53 336.84L128.73 340.84L124.93 336.84Z" fill="#1B5FA6"/><path d="M130.76 335.3L134.56 339.3L130.76 343.3L126.96 339.3Z" fill="#1B5FA6"/><path d="M132.78 337.81L136.58 341.81L132.78 345.81L128.98 341.81Z" fill="#1B5FA6"/><path d="M136.83 342.98L140.63 346.98L136.83 350.98L133.03 346.98Z" fill="#1B5FA6"/><path d="M153.01 355.78L156.81 359.78L153.01 363.78L149.21 359.78Z" fill="#1B5FA6"/><path d="M169.2 367.84L173 371.84L169.2 375.84L165.4 371.84Z" fill="#1B5FA6"/><path d="M185.39 376.98L189.19 380.98L185.39 384.98L181.59 380.98Z" fill="#1B5FA6"/><path d="M201.57 384.3L205.37 388.3L201.57 392.3L197.77 388.3Z" fill="#1B5FA6"/><path d="M217.76 391.61L221.56 395.61L217.76 399.61L213.96 395.61Z" fill="#1B5FA6"/><path d="M233.95 397.46L237.75 401.46L233.95 405.46L230.15 401.46Z" fill="#1B5FA6"/><path d="M250.13 406.24L253.93 410.24L250.13 414.24L246.33 410.24Z" fill="#1B5FA6"/><path d="M266.32 411.72L270.12 415.72L266.32 419.72L262.52 415.72Z" fill="#1B5FA6"/><path d="M282.51 419.04L286.31 423.04L282.51 427.04L278.71 423.04Z" fill="#1B5FA6"/><path d="M298.69 421.96L302.49 425.96L298.69 429.96L294.89 425.96Z" fill="#1B5FA6"/><path d="M314.88 426.35L318.68 430.35L314.88 434.35L311.08 430.35Z" fill="#1B5FA6"/><path d="M331.07 435.49L334.87 439.49L331.07 443.49L327.27 439.49Z" fill="#1B5FA6"/><path d="M347.25 438.78L351.05 442.78L347.25 446.78L343.45 442.78Z" fill="#1B5FA6"/><path d="M363.44 442.8L367.24 446.8L363.44 450.8L359.64 446.8Z" fill="#1B5FA6"/></g><path d="M88.27 303.08L90.29 303.42L92.31 304.02L94.34 304.78L96.36 305.66L98.38 306.65L100.41 307.73L102.43 308.9L104.45 310.14L106.48 311.46L108.5 312.84L110.52 314.29L112.55 315.8L114.57 317.36L116.59 318.98L118.62 320.66L120.64 322.38L122.66 324.16L124.69 325.98L126.71 327.85L128.73 329.76L130.76 331.72L132.78 333.72L136.83 337.84L153.01 348.07L169.2 357.95L185.39 365.26L201.57 371.11L217.76 377.69L233.95 382.81L250.13 389.03L266.32 394.88L282.51 401.1L298.69 404.02L314.88 408.04L331.07 415.36L347.25 418.65L363.44 422.3" stroke="#C4302C" stroke-width="2.6" fill="none" stroke-linejoin="round" clip-path="url(#cb)"/><g><rect x="85.07" y="299.88" width="6.4" height="6.4" fill="#C4302C"/><rect x="87.09" y="300.22" width="6.4" height="6.4" fill="#C4302C"/><rect x="89.11" y="300.82" width="6.4" height="6.4" fill="#C4302C"/><rect x="91.14" y="301.58" width="6.4" height="6.4" fill="#C4302C"/><rect x="93.16" y="302.46" width="6.4" height="6.4" fill="#C4302C"/><rect x="95.18" y="303.45" width="6.4" height="6.4" fill="#C4302C"/><rect x="97.21" y="304.53" width="6.4" height="6.4" fill="#C4302C"/><rect x="99.23" y="305.7" width="6.4" height="6.4" fill="#C4302C"/><rect x="101.25" y="306.94" width="6.4" height="6.4" fill="#C4302C"/><rect x="103.28" y="308.26" width="6.4" height="6.4" fill="#C4302C"/><rect x="105.3" y="309.64" width="6.4" height="6.4" fill="#C4302C"/><rect x="107.32" y="311.09" width="6.4" height="6.4" fill="#C4302C"/><rect x="109.35" y="312.6" width="6.4" height="6.4" fill="#C4302C"/><rect x="111.37" y="314.16" width="6.4" height="6.4" fill="#C4302C"/><rect x="113.39" y="315.78" width="6.4" height="6.4" fill="#C4302C"/><rect x="115.42" y="317.46" width="6.4" height="6.4" fill="#C4302C"/><rect x="117.44" y="319.18" width="6.4" height="6.4" fill="#C4302C"/><rect x="119.46" y="320.96" width="6.4" height="6.4" fill="#C4302C"/><rect x="121.49" y="322.78" width="6.4" height="6.4" fill="#C4302C"/><rect x="123.51" y="324.65" width="6.4" height="6.4" fill="#C4302C"/><rect x="125.53" y="326.56" width="6.4" height="6.4" fill="#C4302C"/><rect x="127.56" y="328.52" width="6.4" height="6.4" fill="#C4302C"/><rect x="129.58" y="330.52" width="6.4" height="6.4" fill="#C4302C"/><rect x="133.63" y="334.64" width="6.4" height="6.4" fill="#C4302C"/><rect x="149.81" y="344.87" width="6.4" height="6.4" fill="#C4302C"/><rect x="166" y="354.75" width="6.4" height="6.4" fill="#C4302C"/><rect x="182.19" y="362.06" width="6.4" height="6.4" fill="#C4302C"/><rect x="198.37" y="367.91" width="6.4" height="6.4" fill="#C4302C"/><rect x="214.56" y="374.49" width="6.4" height="6.4" fill="#C4302C"/><rect x="230.75" y="379.61" width="6.4" height="6.4" fill="#C4302C"/><rect x="246.93" y="385.83" width="6.4" height="6.4" fill="#C4302C"/><rect x="263.12" y="391.68" width="6.4" height="6.4" fill="#C4302C"/><rect x="279.31" y="397.9" width="6.4" height="6.4" fill="#C4302C"/><rect x="295.49" y="400.82" width="6.4" height="6.4" fill="#C4302C"/><rect x="311.68" y="404.84" width="6.4" height="6.4" fill="#C4302C"/><rect x="327.87" y="412.16" width="6.4" height="6.4" fill="#C4302C"/><rect x="344.05" y="415.45" width="6.4" height="6.4" fill="#C4302C"/><rect x="360.24" y="419.1" width="6.4" height="6.4" fill="#C4302C"/></g><path d="M88.27 302.76L90.29 303L92.31 303.42L94.34 303.96L96.36 304.58L98.38 305.27L100.41 306.04L102.43 306.86L104.45 307.73L106.48 308.66L108.5 309.63L110.52 310.65L112.55 311.71L114.57 312.82L116.59 313.96L118.62 315.14L120.64 316.35L122.66 317.6L124.69 318.88L126.71 320.2L128.73 321.55L130.76 322.92L132.78 324.33L136.83 327.23L153.01 335.28L169.2 342.59L185.39 348.07L201.57 352.1L217.76 357.58L233.95 361.24L250.13 367.82L266.32 370.38L282.51 374.77L298.69 377.33L314.88 380.98L331.07 387.2L347.25 389.76L363.44 391.59" stroke="#6EA535" stroke-width="2.6" fill="none" stroke-linejoin="round" clip-path="url(#cb)"/><g><path d="M88.27 298.86L92.17 305.88L84.37 305.88Z" fill="#6EA535"/><path d="M90.29 299.1L94.19 306.12L86.39 306.12Z" fill="#6EA535"/><path d="M92.31 299.52L96.21 306.54L88.41 306.54Z" fill="#6EA535"/><path d="M94.34 300.06L98.24 307.08L90.44 307.08Z" fill="#6EA535"/><path d="M96.36 300.68L100.26 307.7L92.46 307.7Z" fill="#6EA535"/><path d="M98.38 301.37L102.28 308.39L94.48 308.39Z" fill="#6EA535"/><path d="M100.41 302.14L104.31 309.16L96.51 309.16Z" fill="#6EA535"/><path d="M102.43 302.96L106.33 309.98L98.53 309.98Z" fill="#6EA535"/><path d="M104.45 303.83L108.35 310.85L100.55 310.85Z" fill="#6EA535"/><path d="M106.48 304.76L110.38 311.78L102.58 311.78Z" fill="#6EA535"/><path d="M108.5 305.73L112.4 312.75L104.6 312.75Z" fill="#6EA535"/><path d="M110.52 306.75L114.42 313.77L106.62 313.77Z" fill="#6EA535"/><path d="M112.55 307.81L116.45 314.83L108.65 314.83Z" fill="#6EA535"/><path d="M114.57 308.92L118.47 315.94L110.67 315.94Z" fill="#6EA535"/><path d="M116.59 310.06L120.49 317.08L112.69 317.08Z" fill="#6EA535"/><path d="M118.62 311.24L122.52 318.26L114.72 318.26Z" fill="#6EA535"/><path d="M120.64 312.45L124.54 319.47L116.74 319.47Z" fill="#6EA535"/><path d="M122.66 313.7L126.56 320.72L118.76 320.72Z" fill="#6EA535"/><path d="M124.69 314.98L128.59 322L120.79 322Z" fill="#6EA535"/><path d="M126.71 316.3L130.61 323.32L122.81 323.32Z" fill="#6EA535"/><path d="M128.73 317.65L132.63 324.67L124.83 324.67Z" fill="#6EA535"/><path d="M130.76 319.02L134.66 326.04L126.86 326.04Z" fill="#6EA535"/><path d="M132.78 320.43L136.68 327.45L128.88 327.45Z" fill="#6EA535"/><path d="M136.83 323.33L140.73 330.35L132.93 330.35Z" fill="#6EA535"/><path d="M153.01 331.38L156.91 338.4L149.11 338.4Z" fill="#6EA535"/><path d="M169.2 338.69L173.1 345.71L165.3 345.71Z" fill="#6EA535"/><path d="M185.39 344.17L189.29 351.19L181.49 351.19Z" fill="#6EA535"/><path d="M201.57 348.2L205.47 355.22L197.67 355.22Z" fill="#6EA535"/><path d="M217.76 353.68L221.66 360.7L213.86 360.7Z" fill="#6EA535"/><path d="M233.95 357.34L237.85 364.36L230.05 364.36Z" fill="#6EA535"/><path d="M250.13 363.92L254.03 370.94L246.23 370.94Z" fill="#6EA535"/><path d="M266.32 366.48L270.22 373.5L262.42 373.5Z" fill="#6EA535"/><path d="M282.51 370.87L286.41 377.89L278.61 377.89Z" fill="#6EA535"/><path d="M298.69 373.43L302.59 380.45L294.79 380.45Z" fill="#6EA535"/><path d="M314.88 377.08L318.78 384.1L310.98 384.1Z" fill="#6EA535"/><path d="M331.07 383.3L334.97 390.32L327.17 390.32Z" fill="#6EA535"/><path d="M347.25 385.86L351.15 392.88L343.35 392.88Z" fill="#6EA535"/><path d="M363.44 387.69L367.34 394.71L359.54 394.71Z" fill="#6EA535"/></g><path d="M88.27 302.55L90.29 302.73L92.31 303.03L94.34 303.42L96.36 303.87L98.38 304.37L100.41 304.92L102.43 305.52L104.45 306.15L106.48 306.83L108.5 307.53L110.52 308.27L112.55 309.04L114.57 309.84L116.59 310.67L118.62 311.52L120.64 312.4L122.66 313.31L124.69 314.23L126.71 315.19L128.73 316.16L130.76 317.16L132.78 318.18L136.83 320.28L153.01 324.67L169.2 330.16L185.39 334.54L201.57 337.84L217.76 341.86L233.95 344.42L250.13 349.17L266.32 351.73L282.51 355.75L298.69 357.58L314.88 360.51L331.07 364.89L347.25 367.09L363.44 368.92" stroke="#6A3D9E" stroke-width="2.6" fill="none" stroke-linejoin="round" clip-path="url(#cb)"/><g><path d="M85.17 299.45L91.37 305.65M85.17 305.65L91.37 299.45" stroke="#6A3D9E" stroke-width="1.5" fill="none"/><path d="M87.19 299.63L93.39 305.83M87.19 305.83L93.39 299.63" stroke="#6A3D9E" stroke-width="1.5" fill="none"/><path d="M89.21 299.93L95.41 306.13M89.21 306.13L95.41 299.93" stroke="#6A3D9E" stroke-width="1.5" fill="none"/><path d="M91.24 300.32L97.44 306.52M91.24 306.52L97.44 300.32" stroke="#6A3D9E" stroke-width="1.5" fill="none"/><path d="M93.26 300.77L99.46 306.97M93.26 306.97L99.46 300.77" stroke="#6A3D9E" stroke-width="1.5" fill="none"/><path d="M95.28 301.27L101.48 307.47M95.28 307.47L101.48 301.27" stroke="#6A3D9E" stroke-width="1.5" fill="none"/><path d="M97.31 301.82L103.51 308.02M97.31 308.02L103.51 301.82" stroke="#6A3D9E" stroke-width="1.5" fill="none"/><path d="M99.33 302.42L105.53 308.62M99.33 308.62L105.53 302.42" stroke="#6A3D9E" stroke-width="1.5" fill="none"/><path d="M101.35 303.05L107.55 309.25M101.35 309.25L107.55 303.05" stroke="#6A3D9E" stroke-width="1.5" fill="none"/><path d="M103.38 303.73L109.58 309.93M103.38 309.93L109.58 303.73" stroke="#6A3D9E" stroke-width="1.5" fill="none"/><path d="M105.4 304.43L111.6 310.63M105.4 310.63L111.6 304.43" stroke="#6A3D9E" stroke-width="1.5" fill="none"/><path d="M107.42 305.17L113.62 311.37M107.42 311.37L113.62 305.17" stroke="#6A3D9E" stroke-width="1.5" fill="none"/><path d="M109.45 305.94L115.65 312.14M109.45 312.14L115.65 305.94" stroke="#6A3D9E" stroke-width="1.5" fill="none"/><path d="M111.47 306.74L117.67 312.94M111.47 312.94L117.67 306.74" stroke="#6A3D9E" stroke-width="1.5" fill="none"/><path d="M113.49 307.57L119.69 313.77M113.49 313.77L119.69 307.57" stroke="#6A3D9E" stroke-width="1.5" fill="none"/><path d="M115.52 308.42L121.72 314.62M115.52 314.62L121.72 308.42" stroke="#6A3D9E" stroke-width="1.5" fill="none"/><path d="M117.54 309.3L123.74 315.5M117.54 315.5L123.74 309.3" stroke="#6A3D9E" stroke-width="1.5" fill="none"/><path d="M119.56 310.21L125.76 316.41M119.56 316.41L125.76 310.21" stroke="#6A3D9E" stroke-width="1.5" fill="none"/><path d="M121.59 311.13L127.79 317.33M121.59 317.33L127.79 311.13" stroke="#6A3D9E" stroke-width="1.5" fill="none"/><path d="M123.61 312.09L129.81 318.29M123.61 318.29L129.81 312.09" stroke="#6A3D9E" stroke-width="1.5" fill="none"/><path d="M125.63 313.06L131.83 319.26M125.63 319.26L131.83 313.06" stroke="#6A3D9E" stroke-width="1.5" fill="none"/><path d="M127.66 314.06L133.86 320.26M127.66 320.26L133.86 314.06" stroke="#6A3D9E" stroke-width="1.5" fill="none"/><path d="M129.68 315.08L135.88 321.28M129.68 321.28L135.88 315.08" stroke="#6A3D9E" stroke-width="1.5" fill="none"/><path d="M133.73 317.18L139.93 323.38M133.73 323.38L139.93 317.18" stroke="#6A3D9E" stroke-width="1.5" fill="none"/><path d="M149.91 321.57L156.11 327.77M149.91 327.77L156.11 321.57" stroke="#6A3D9E" stroke-width="1.5" fill="none"/><path d="M166.1 327.06L172.3 333.26M166.1 333.26L172.3 327.06" stroke="#6A3D9E" stroke-width="1.5" fill="none"/><path d="M182.29 331.44L188.49 337.64M182.29 337.64L188.49 331.44" stroke="#6A3D9E" stroke-width="1.5" fill="none"/><path d="M198.47 334.74L204.67 340.94M198.47 340.94L204.67 334.74" stroke="#6A3D9E" stroke-width="1.5" fill="none"/><path d="M214.66 338.76L220.86 344.96M214.66 344.96L220.86 338.76" stroke="#6A3D9E" stroke-width="1.5" fill="none"/><path d="M230.85 341.32L237.05 347.52M230.85 347.52L237.05 341.32" stroke="#6A3D9E" stroke-width="1.5" fill="none"/><path d="M247.03 346.07L253.23 352.27M247.03 352.27L253.23 346.07" stroke="#6A3D9E" stroke-width="1.5" fill="none"/><path d="M263.22 348.63L269.42 354.83M263.22 354.83L269.42 348.63" stroke="#6A3D9E" stroke-width="1.5" fill="none"/><path d="M279.41 352.65L285.61 358.85M279.41 358.85L285.61 352.65" stroke="#6A3D9E" stroke-width="1.5" fill="none"/><path d="M295.59 354.48L301.79 360.68M295.59 360.68L301.79 354.48" stroke="#6A3D9E" stroke-width="1.5" fill="none"/><path d="M311.78 357.41L317.98 363.61M311.78 363.61L317.98 357.41" stroke="#6A3D9E" stroke-width="1.5" fill="none"/><path d="M327.97 361.79L334.17 367.99M327.97 367.99L334.17 361.79" stroke="#6A3D9E" stroke-width="1.5" fill="none"/><path d="M344.15 363.99L350.35 370.19M344.15 370.19L350.35 363.99" stroke="#6A3D9E" stroke-width="1.5" fill="none"/><path d="M360.34 365.82L366.54 372.02M360.34 372.02L366.54 365.82" stroke="#6A3D9E" stroke-width="1.5" fill="none"/></g><path d="M88.27 302.41L90.29 302.54L92.31 302.76L94.34 303.05L96.36 303.38L98.38 303.76L100.41 304.16L102.43 304.6L104.45 305.07L106.48 305.57L108.5 306.09L110.52 306.64L112.55 307.21L114.57 307.8L116.59 308.41L118.62 309.04L120.64 309.7L122.66 310.37L124.69 311.05L126.71 311.76L128.73 312.48L130.76 313.22L132.78 313.97L136.83 315.53L153.01 318.45L169.2 322.48L185.39 325.77L201.57 328.33L217.76 331.25L233.95 333.08L250.13 336.74L266.32 338.57L282.51 341.86L298.69 343.69L314.88 345.15L331.07 349.54L347.25 350.27L363.44 352.83" stroke="#1B90A2" stroke-width="2.6" fill="none" stroke-linejoin="round" clip-path="url(#cb)"/><g><path d="M85.07 299.21L91.47 305.61M85.07 305.61L91.47 299.21M88.27 299.21L88.27 305.61" stroke="#1B90A2" stroke-width="1.4" fill="none"/><path d="M87.09 299.34L93.49 305.74M87.09 305.74L93.49 299.34M90.29 299.34L90.29 305.74" stroke="#1B90A2" stroke-width="1.4" fill="none"/><path d="M89.11 299.56L95.51 305.96M89.11 305.96L95.51 299.56M92.31 299.56L92.31 305.96" stroke="#1B90A2" stroke-width="1.4" fill="none"/><path d="M91.14 299.85L97.54 306.25M91.14 306.25L97.54 299.85M94.34 299.85L94.34 306.25" stroke="#1B90A2" stroke-width="1.4" fill="none"/><path d="M93.16 300.18L99.56 306.58M93.16 306.58L99.56 300.18M96.36 300.18L96.36 306.58" stroke="#1B90A2" stroke-width="1.4" fill="none"/><path d="M95.18 300.56L101.58 306.96M95.18 306.96L101.58 300.56M98.38 300.56L98.38 306.96" stroke="#1B90A2" stroke-width="1.4" fill="none"/><path d="M97.21 300.96L103.61 307.36M97.21 307.36L103.61 300.96M100.41 300.96L100.41 307.36" stroke="#1B90A2" stroke-width="1.4" fill="none"/><path d="M99.23 301.4L105.63 307.8M99.23 307.8L105.63 301.4M102.43 301.4L102.43 307.8" stroke="#1B90A2" stroke-width="1.4" fill="none"/><path d="M101.25 301.87L107.65 308.27M101.25 308.27L107.65 301.87M104.45 301.87L104.45 308.27" stroke="#1B90A2" stroke-width="1.4" fill="none"/><path d="M103.28 302.37L109.68 308.77M103.28 308.77L109.68 302.37M106.48 302.37L106.48 308.77" stroke="#1B90A2" stroke-width="1.4" fill="none"/><path d="M105.3 302.89L111.7 309.29M105.3 309.29L111.7 302.89M108.5 302.89L108.5 309.29" stroke="#1B90A2" stroke-width="1.4" fill="none"/><path d="M107.32 303.44L113.72 309.84M107.32 309.84L113.72 303.44M110.52 303.44L110.52 309.84" stroke="#1B90A2" stroke-width="1.4" fill="none"/><path d="M109.35 304.01L115.75 310.41M109.35 310.41L115.75 304.01M112.55 304.01L112.55 310.41" stroke="#1B90A2" stroke-width="1.4" fill="none"/><path d="M111.37 304.6L117.77 311M111.37 311L117.77 304.6M114.57 304.6L114.57 311" stroke="#1B90A2" stroke-width="1.4" fill="none"/><path d="M113.39 305.21L119.79 311.61M113.39 311.61L119.79 305.21M116.59 305.21L116.59 311.61" stroke="#1B90A2" stroke-width="1.4" fill="none"/><path d="M115.42 305.84L121.82 312.24M115.42 312.24L121.82 305.84M118.62 305.84L118.62 312.24" stroke="#1B90A2" stroke-width="1.4" fill="none"/><path d="M117.44 306.5L123.84 312.9M117.44 312.9L123.84 306.5M120.64 306.5L120.64 312.9" stroke="#1B90A2" stroke-width="1.4" fill="none"/><path d="M119.46 307.17L125.86 313.57M119.46 313.57L125.86 307.17M122.66 307.17L122.66 313.57" stroke="#1B90A2" stroke-width="1.4" fill="none"/><path d="M121.49 307.85L127.89 314.25M121.49 314.25L127.89 307.85M124.69 307.85L124.69 314.25" stroke="#1B90A2" stroke-width="1.4" fill="none"/><path d="M123.51 308.56L129.91 314.96M123.51 314.96L129.91 308.56M126.71 308.56L126.71 314.96" stroke="#1B90A2" stroke-width="1.4" fill="none"/><path d="M125.53 309.28L131.93 315.68M125.53 315.68L131.93 309.28M128.73 309.28L128.73 315.68" stroke="#1B90A2" stroke-width="1.4" fill="none"/><path d="M127.56 310.02L133.96 316.42M127.56 316.42L133.96 310.02M130.76 310.02L130.76 316.42" stroke="#1B90A2" stroke-width="1.4" fill="none"/><path d="M129.58 310.77L135.98 317.17M129.58 317.17L135.98 310.77M132.78 310.77L132.78 317.17" stroke="#1B90A2" stroke-width="1.4" fill="none"/><path d="M133.63 312.33L140.03 318.73M133.63 318.73L140.03 312.33M136.83 312.33L136.83 318.73" stroke="#1B90A2" stroke-width="1.4" fill="none"/><path d="M149.81 315.25L156.21 321.65M149.81 321.65L156.21 315.25M153.01 315.25L153.01 321.65" stroke="#1B90A2" stroke-width="1.4" fill="none"/><path d="M166 319.28L172.4 325.68M166 325.68L172.4 319.28M169.2 319.28L169.2 325.68" stroke="#1B90A2" stroke-width="1.4" fill="none"/><path d="M182.19 322.57L188.59 328.97M182.19 328.97L188.59 322.57M185.39 322.57L185.39 328.97" stroke="#1B90A2" stroke-width="1.4" fill="none"/><path d="M198.37 325.13L204.77 331.53M198.37 331.53L204.77 325.13M201.57 325.13L201.57 331.53" stroke="#1B90A2" stroke-width="1.4" fill="none"/><path d="M214.56 328.05L220.96 334.45M214.56 334.45L220.96 328.05M217.76 328.05L217.76 334.45" stroke="#1B90A2" stroke-width="1.4" fill="none"/><path d="M230.75 329.88L237.15 336.28M230.75 336.28L237.15 329.88M233.95 329.88L233.95 336.28" stroke="#1B90A2" stroke-width="1.4" fill="none"/><path d="M246.93 333.54L253.33 339.94M246.93 339.94L253.33 333.54M250.13 333.54L250.13 339.94" stroke="#1B90A2" stroke-width="1.4" fill="none"/><path d="M263.12 335.37L269.52 341.77M263.12 341.77L269.52 335.37M266.32 335.37L266.32 341.77" stroke="#1B90A2" stroke-width="1.4" fill="none"/><path d="M279.31 338.66L285.71 345.06M279.31 345.06L285.71 338.66M282.51 338.66L282.51 345.06" stroke="#1B90A2" stroke-width="1.4" fill="none"/><path d="M295.49 340.49L301.89 346.89M295.49 346.89L301.89 340.49M298.69 340.49L298.69 346.89" stroke="#1B90A2" stroke-width="1.4" fill="none"/><path d="M311.68 341.95L318.08 348.35M311.68 348.35L318.08 341.95M314.88 341.95L314.88 348.35" stroke="#1B90A2" stroke-width="1.4" fill="none"/><path d="M327.87 346.34L334.27 352.74M327.87 352.74L334.27 346.34M331.07 346.34L331.07 352.74" stroke="#1B90A2" stroke-width="1.4" fill="none"/><path d="M344.05 347.07L350.45 353.47M344.05 353.47L350.45 347.07M347.25 347.07L347.25 353.47" stroke="#1B90A2" stroke-width="1.4" fill="none"/><path d="M360.24 349.63L366.64 356.03M360.24 356.03L366.64 349.63M363.44 349.63L363.44 356.03" stroke="#1B90A2" stroke-width="1.4" fill="none"/></g><path d="M88.27 302.27L90.29 302.36L92.31 302.52L94.34 302.71L96.36 302.93L98.38 303.19L100.41 303.46L102.43 303.76L104.45 304.08L106.48 304.41L108.5 304.77L110.52 305.14L112.55 305.52L114.57 305.92L116.59 306.33L118.62 306.76L120.64 307.2L122.66 307.65L124.69 308.12L126.71 308.59L128.73 309.08L130.76 309.58L132.78 310.09L136.83 311.14L153.01 314.43L169.2 316.99L185.39 318.45L201.57 320.65L217.76 322.84L233.95 324.31L250.13 327.23L266.32 328.33L282.51 331.62L298.69 332.35L314.88 333.81L331.07 337.1L347.25 338.57L363.44 338.93" stroke="#F07522" stroke-width="2.6" fill="none" stroke-linejoin="round" clip-path="url(#cb)"/><g><circle cx="88.27" cy="302.27" r="3.7" fill="#F07522"/><circle cx="90.29" cy="302.36" r="3.7" fill="#F07522"/><circle cx="92.31" cy="302.52" r="3.7" fill="#F07522"/><circle cx="94.34" cy="302.71" r="3.7" fill="#F07522"/><circle cx="96.36" cy="302.93" r="3.7" fill="#F07522"/><circle cx="98.38" cy="303.19" r="3.7" fill="#F07522"/><circle cx="100.41" cy="303.46" r="3.7" fill="#F07522"/><circle cx="102.43" cy="303.76" r="3.7" fill="#F07522"/><circle cx="104.45" cy="304.08" r="3.7" fill="#F07522"/><circle cx="106.48" cy="304.41" r="3.7" fill="#F07522"/><circle cx="108.5" cy="304.77" r="3.7" fill="#F07522"/><circle cx="110.52" cy="305.14" r="3.7" fill="#F07522"/><circle cx="112.55" cy="305.52" r="3.7" fill="#F07522"/><circle cx="114.57" cy="305.92" r="3.7" fill="#F07522"/><circle cx="116.59" cy="306.33" r="3.7" fill="#F07522"/><circle cx="118.62" cy="306.76" r="3.7" fill="#F07522"/><circle cx="120.64" cy="307.2" r="3.7" fill="#F07522"/><circle cx="122.66" cy="307.65" r="3.7" fill="#F07522"/><circle cx="124.69" cy="308.12" r="3.7" fill="#F07522"/><circle cx="126.71" cy="308.59" r="3.7" fill="#F07522"/><circle cx="128.73" cy="309.08" r="3.7" fill="#F07522"/><circle cx="130.76" cy="309.58" r="3.7" fill="#F07522"/><circle cx="132.78" cy="310.09" r="3.7" fill="#F07522"/><circle cx="136.83" cy="311.14" r="3.7" fill="#F07522"/><circle cx="153.01" cy="314.43" r="3.7" fill="#F07522"/><circle cx="169.2" cy="316.99" r="3.7" fill="#F07522"/><circle cx="185.39" cy="318.45" r="3.7" fill="#F07522"/><circle cx="201.57" cy="320.65" r="3.7" fill="#F07522"/><circle cx="217.76" cy="322.84" r="3.7" fill="#F07522"/><circle cx="233.95" cy="324.31" r="3.7" fill="#F07522"/><circle cx="250.13" cy="327.23" r="3.7" fill="#F07522"/><circle cx="266.32" cy="328.33" r="3.7" fill="#F07522"/><circle cx="282.51" cy="331.62" r="3.7" fill="#F07522"/><circle cx="298.69" cy="332.35" r="3.7" fill="#F07522"/><circle cx="314.88" cy="333.81" r="3.7" fill="#F07522"/><circle cx="331.07" cy="337.1" r="3.7" fill="#F07522"/><circle cx="347.25" cy="338.57" r="3.7" fill="#F07522"/><circle cx="363.44" cy="338.93" r="3.7" fill="#F07522"/></g><path d="M88.27 302.21L90.29 302.28L92.31 302.39L94.34 302.54L96.36 302.71L98.38 302.9L100.41 303.11L102.43 303.34L104.45 303.58L106.48 303.83L108.5 304.1L110.52 304.38L112.55 304.68L114.57 304.98L116.59 305.29L118.62 305.62L120.64 305.95L122.66 306.3L124.69 306.65L126.71 307.01L128.73 307.38L130.76 307.76L132.78 308.15L136.83 308.95L153.01 310.78L169.2 312.97L185.39 314.43L201.57 316.26L217.76 318.09L233.95 319.19L250.13 321.75L266.32 322.84L282.51 324.67L298.69 326.13L314.88 326.87L331.07 330.16L347.25 331.25L363.44 332.35" stroke="#1C74C2" stroke-width="2.6" fill="none" stroke-linejoin="round" clip-path="url(#cb)"/><g><path d="M88.27 298.41L88.27 306.01" stroke="#1C74C2" stroke-width="1.5" fill="none"/><path d="M90.29 298.48L90.29 306.08" stroke="#1C74C2" stroke-width="1.5" fill="none"/><path d="M92.31 298.59L92.31 306.19" stroke="#1C74C2" stroke-width="1.5" fill="none"/><path d="M94.34 298.74L94.34 306.34" stroke="#1C74C2" stroke-width="1.5" fill="none"/><path d="M96.36 298.91L96.36 306.51" stroke="#1C74C2" stroke-width="1.5" fill="none"/><path d="M98.38 299.1L98.38 306.7" stroke="#1C74C2" stroke-width="1.5" fill="none"/><path d="M100.41 299.31L100.41 306.91" stroke="#1C74C2" stroke-width="1.5" fill="none"/><path d="M102.43 299.54L102.43 307.14" stroke="#1C74C2" stroke-width="1.5" fill="none"/><path d="M104.45 299.78L104.45 307.38" stroke="#1C74C2" stroke-width="1.5" fill="none"/><path d="M106.48 300.03L106.48 307.63" stroke="#1C74C2" stroke-width="1.5" fill="none"/><path d="M108.5 300.3L108.5 307.9" stroke="#1C74C2" stroke-width="1.5" fill="none"/><path d="M110.52 300.58L110.52 308.18" stroke="#1C74C2" stroke-width="1.5" fill="none"/><path d="M112.55 300.88L112.55 308.48" stroke="#1C74C2" stroke-width="1.5" fill="none"/><path d="M114.57 301.18L114.57 308.78" stroke="#1C74C2" stroke-width="1.5" fill="none"/><path d="M116.59 301.49L116.59 309.09" stroke="#1C74C2" stroke-width="1.5" fill="none"/><path d="M118.62 301.82L118.62 309.42" stroke="#1C74C2" stroke-width="1.5" fill="none"/><path d="M120.64 302.15L120.64 309.75" stroke="#1C74C2" stroke-width="1.5" fill="none"/><path d="M122.66 302.5L122.66 310.1" stroke="#1C74C2" stroke-width="1.5" fill="none"/><path d="M124.69 302.85L124.69 310.45" stroke="#1C74C2" stroke-width="1.5" fill="none"/><path d="M126.71 303.21L126.71 310.81" stroke="#1C74C2" stroke-width="1.5" fill="none"/><path d="M128.73 303.58L128.73 311.18" stroke="#1C74C2" stroke-width="1.5" fill="none"/><path d="M130.76 303.96L130.76 311.56" stroke="#1C74C2" stroke-width="1.5" fill="none"/><path d="M132.78 304.35L132.78 311.95" stroke="#1C74C2" stroke-width="1.5" fill="none"/><path d="M136.83 305.15L136.83 312.75" stroke="#1C74C2" stroke-width="1.5" fill="none"/><path d="M153.01 306.98L153.01 314.58" stroke="#1C74C2" stroke-width="1.5" fill="none"/><path d="M169.2 309.17L169.2 316.77" stroke="#1C74C2" stroke-width="1.5" fill="none"/><path d="M185.39 310.63L185.39 318.23" stroke="#1C74C2" stroke-width="1.5" fill="none"/><path d="M201.57 312.46L201.57 320.06" stroke="#1C74C2" stroke-width="1.5" fill="none"/><path d="M217.76 314.29L217.76 321.89" stroke="#1C74C2" stroke-width="1.5" fill="none"/><path d="M233.95 315.39L233.95 322.99" stroke="#1C74C2" stroke-width="1.5" fill="none"/><path d="M250.13 317.95L250.13 325.55" stroke="#1C74C2" stroke-width="1.5" fill="none"/><path d="M266.32 319.04L266.32 326.64" stroke="#1C74C2" stroke-width="1.5" fill="none"/><path d="M282.51 320.87L282.51 328.47" stroke="#1C74C2" stroke-width="1.5" fill="none"/><path d="M298.69 322.33L298.69 329.93" stroke="#1C74C2" stroke-width="1.5" fill="none"/><path d="M314.88 323.07L314.88 330.67" stroke="#1C74C2" stroke-width="1.5" fill="none"/><path d="M331.07 326.36L331.07 333.96" stroke="#1C74C2" stroke-width="1.5" fill="none"/><path d="M347.25 327.45L347.25 335.05" stroke="#1C74C2" stroke-width="1.5" fill="none"/><path d="M363.44 328.55L363.44 336.15" stroke="#1C74C2" stroke-width="1.5" fill="none"/></g><path d="M88.27 302.15L90.29 302.2L92.31 302.29L94.34 302.4L96.36 302.52L98.38 302.66L100.41 302.82L102.43 302.99L104.45 303.16L106.48 303.35L108.5 303.55L110.52 303.76L112.55 303.97L114.57 304.19L116.59 304.43L118.62 304.67L120.64 304.91L122.66 305.17L124.69 305.43L126.71 305.69L128.73 305.97L130.76 306.25L132.78 306.53L136.83 307.12L153.01 308.22L169.2 309.31L185.39 310.41L201.57 311.87L217.76 312.97L233.95 314.07L250.13 315.53L266.32 316.63L282.51 318.82L298.69 321.01L314.88 321.75L331.07 323.21L347.25 324.31L363.44 325.4" stroke="#E0342F" stroke-width="2.6" fill="none" stroke-linejoin="round" clip-path="url(#cb)"/><path d="M88.27 302.11L90.29 302.15L92.31 302.21L94.34 302.28L96.36 302.37L98.38 302.47L100.41 302.58L102.43 302.7L104.45 302.83L106.48 302.97L108.5 303.11L110.52 303.25L112.55 303.41L114.57 303.57L116.59 303.73L118.62 303.9L120.64 304.08L122.66 304.26L124.69 304.45L126.71 304.64L128.73 304.83L130.76 305.03L132.78 305.24L136.83 305.66L153.01 306.75L169.2 307.12L185.39 307.85L201.57 308.22L217.76 308.95L233.95 309.68L250.13 310.78L266.32 311.87L282.51 313.7L298.69 315.9L314.88 316.63L331.07 317.72L347.25 318.82L363.44 319.92" stroke="#7DBA34" stroke-width="2.6" fill="none" stroke-linejoin="round" clip-path="url(#cb)"/><path d="M88.27 302.07L90.29 302.07L92.31 302.07L94.34 302.07L96.36 302.07L98.38 302.07L100.41 302.07L102.43 302.07L104.45 302.07L106.48 302.07L108.5 302.07L110.52 302.07L112.55 302.07L114.57 302.07L116.59 302.07L118.62 302.16L120.64 302.29L122.66 302.44L124.69 302.61L126.71 302.79L128.73 302.98L130.76 303.18L132.78 303.39L136.83 303.83L153.01 304.93L169.2 306.02L185.39 306.39L201.57 306.75L217.76 307.49L233.95 307.85L250.13 308.22L266.32 309.68L282.51 310.41L298.69 311.14L314.88 311.87L331.07 312.6L347.25 313.7L363.44 314.43" stroke="#7B47B6" stroke-width="2.6" fill="none" stroke-linejoin="round" clip-path="url(#cb)"/><g><path d="M120.64 298.29L124.44 302.29L120.64 306.29L116.84 302.29Z" fill="#7B47B6"/><path d="M122.66 298.44L126.46 302.44L122.66 306.44L118.86 302.44Z" fill="#7B47B6"/><path d="M124.69 298.61L128.49 302.61L124.69 306.61L120.89 302.61Z" fill="#7B47B6"/><path d="M126.71 298.79L130.51 302.79L126.71 306.79L122.91 302.79Z" fill="#7B47B6"/><path d="M128.73 298.98L132.53 302.98L128.73 306.98L124.93 302.98Z" fill="#7B47B6"/><path d="M130.76 299.18L134.56 303.18L130.76 307.18L126.96 303.18Z" fill="#7B47B6"/><path d="M132.78 299.39L136.58 303.39L132.78 307.39L128.98 303.39Z" fill="#7B47B6"/><path d="M136.83 299.83L140.63 303.83L136.83 307.83L133.03 303.83Z" fill="#7B47B6"/><path d="M153.01 300.93L156.81 304.93L153.01 308.93L149.21 304.93Z" fill="#7B47B6"/><path d="M169.2 302.02L173 306.02L169.2 310.02L165.4 306.02Z" fill="#7B47B6"/><path d="M185.39 302.39L189.19 306.39L185.39 310.39L181.59 306.39Z" fill="#7B47B6"/><path d="M201.57 302.75L205.37 306.75L201.57 310.75L197.77 306.75Z" fill="#7B47B6"/><path d="M217.76 303.49L221.56 307.49L217.76 311.49L213.96 307.49Z" fill="#7B47B6"/><path d="M233.95 303.85L237.75 307.85L233.95 311.85L230.15 307.85Z" fill="#7B47B6"/><path d="M250.13 304.22L253.93 308.22L250.13 312.22L246.33 308.22Z" fill="#7B47B6"/><path d="M266.32 305.68L270.12 309.68L266.32 313.68L262.52 309.68Z" fill="#7B47B6"/><path d="M282.51 306.41L286.31 310.41L282.51 314.41L278.71 310.41Z" fill="#7B47B6"/><path d="M298.69 307.14L302.49 311.14L298.69 315.14L294.89 311.14Z" fill="#7B47B6"/><path d="M314.88 307.87L318.68 311.87L314.88 315.87L311.08 311.87Z" fill="#7B47B6"/><path d="M331.07 308.6L334.87 312.6L331.07 316.6L327.27 312.6Z" fill="#7B47B6"/><path d="M347.25 309.7L351.05 313.7L347.25 317.7L343.45 313.7Z" fill="#7B47B6"/><path d="M363.44 310.43L367.24 314.43L363.44 318.43L359.64 314.43Z" fill="#7B47B6"/></g><path d="M88.27 301.63L90.29 301.63L92.31 301.63L94.34 301.63L96.36 301.63L98.38 301.63L100.41 301.63L102.43 301.63L104.45 301.63L106.48 301.63L108.5 301.63L110.52 301.63L112.55 301.63L114.57 301.63L116.59 301.63L118.62 302.12L120.64 302.14L122.66 302.17L124.69 302.19L126.71 302.21L128.73 302.23L130.76 302.25L132.78 302.28L136.83 302.29L153.01 302.48L169.2 302.55L185.39 302.66L201.57 302.91L217.76 303.1L233.95 303.83L250.13 304.19L266.32 305.66L282.51 307.12L298.69 307.12L314.88 307.49L331.07 308.58L347.25 308.95L363.44 309.68" stroke="#10A5CF" stroke-width="2.6" fill="none" stroke-linejoin="round" clip-path="url(#cb)"/><g><rect x="115.42" y="298.92" width="6.4" height="6.4" fill="#10A5CF"/><rect x="117.44" y="298.94" width="6.4" height="6.4" fill="#10A5CF"/><rect x="119.46" y="298.97" width="6.4" height="6.4" fill="#10A5CF"/><rect x="121.49" y="298.99" width="6.4" height="6.4" fill="#10A5CF"/><rect x="123.51" y="299.01" width="6.4" height="6.4" fill="#10A5CF"/><rect x="125.53" y="299.03" width="6.4" height="6.4" fill="#10A5CF"/><rect x="127.56" y="299.05" width="6.4" height="6.4" fill="#10A5CF"/><rect x="129.58" y="299.08" width="6.4" height="6.4" fill="#10A5CF"/><rect x="133.63" y="299.09" width="6.4" height="6.4" fill="#10A5CF"/><rect x="149.81" y="299.28" width="6.4" height="6.4" fill="#10A5CF"/><rect x="166" y="299.35" width="6.4" height="6.4" fill="#10A5CF"/><rect x="182.19" y="299.46" width="6.4" height="6.4" fill="#10A5CF"/><rect x="198.37" y="299.71" width="6.4" height="6.4" fill="#10A5CF"/><rect x="214.56" y="299.9" width="6.4" height="6.4" fill="#10A5CF"/><rect x="230.75" y="300.63" width="6.4" height="6.4" fill="#10A5CF"/><rect x="246.93" y="300.99" width="6.4" height="6.4" fill="#10A5CF"/><rect x="263.12" y="302.46" width="6.4" height="6.4" fill="#10A5CF"/><rect x="279.31" y="303.92" width="6.4" height="6.4" fill="#10A5CF"/><rect x="295.49" y="303.92" width="6.4" height="6.4" fill="#10A5CF"/><rect x="311.68" y="304.29" width="6.4" height="6.4" fill="#10A5CF"/><rect x="327.87" y="305.38" width="6.4" height="6.4" fill="#10A5CF"/><rect x="344.05" y="305.75" width="6.4" height="6.4" fill="#10A5CF"/><rect x="360.24" y="306.48" width="6.4" height="6.4" fill="#10A5CF"/></g><path d="M88.27 301.82L90.29 301.82L92.31 301.82L94.34 301.82L96.36 301.82L98.38 301.82L100.41 300.72L102.43 300.72L104.45 300.72L106.48 300.72L108.5 300.72L110.52 300.72L112.55 300.72L114.57 300.72L116.59 300.72L118.62 300.72L120.64 300.72L122.66 300.72L124.69 300.72L126.71 300.72L128.73 300.72L130.76 300.72L132.78 300.72L136.83 301.74L153.01 301.74L169.2 301.74L185.39 301.74L201.57 301.74L217.76 301.74L233.95 302.18L250.13 302.18L266.32 302.37L282.51 302.55L298.69 302.73L314.88 303.46L331.07 303.83L347.25 304.19L363.44 304.93" stroke="#F88B26" stroke-width="2.6" fill="none" stroke-linejoin="round" clip-path="url(#cb)"/><g><path d="M88.27 297.92L92.17 304.94L84.37 304.94Z" fill="#F88B26"/><path d="M90.29 297.92L94.19 304.94L86.39 304.94Z" fill="#F88B26"/><path d="M92.31 297.92L96.21 304.94L88.41 304.94Z" fill="#F88B26"/><path d="M94.34 297.92L98.24 304.94L90.44 304.94Z" fill="#F88B26"/><path d="M96.36 297.92L100.26 304.94L92.46 304.94Z" fill="#F88B26"/><path d="M98.38 297.92L102.28 304.94L94.48 304.94Z" fill="#F88B26"/><path d="M233.95 298.28L237.85 305.3L230.05 305.3Z" fill="#F88B26"/><path d="M250.13 298.28L254.03 305.3L246.23 305.3Z" fill="#F88B26"/><path d="M266.32 298.47L270.22 305.49L262.42 305.49Z" fill="#F88B26"/><path d="M282.51 298.65L286.41 305.67L278.61 305.67Z" fill="#F88B26"/><path d="M298.69 298.83L302.59 305.85L294.79 305.85Z" fill="#F88B26"/><path d="M314.88 299.56L318.78 306.58L310.98 306.58Z" fill="#F88B26"/><path d="M331.07 299.93L334.97 306.95L327.17 306.95Z" fill="#F88B26"/><path d="M347.25 300.29L351.15 307.31L343.35 307.31Z" fill="#F88B26"/><path d="M363.44 301.03L367.34 308.05L359.54 308.05Z" fill="#F88B26"/></g><g font-family="'Liberation Serif', serif" font-size="9.6" fill="#000" stroke="#000" stroke-width="0.2"><text transform="translate(46.8 296) scale(0.94 1)" text-anchor="middle">0.0</text><text transform="translate(87.27 296) scale(0.94 1)" text-anchor="middle">1.0</text><text transform="translate(127.73 296) scale(0.94 1)" text-anchor="middle">2.0</text><text transform="translate(168.2 296) scale(0.94 1)" text-anchor="middle">3.0</text><text transform="translate(208.67 296) scale(0.94 1)" text-anchor="middle">4.0</text><text transform="translate(249.13 296) scale(0.94 1)" text-anchor="middle">5.0</text><text transform="translate(289.6 296) scale(0.94 1)" text-anchor="middle">6.0</text><text transform="translate(330.07 296) scale(0.94 1)" text-anchor="middle">7.0</text><text transform="translate(370.53 296) scale(0.94 1)" text-anchor="middle">8.0</text><text transform="translate(411 296) scale(0.94 1)" text-anchor="middle">9.0</text><text transform="translate(37.8 305.6) scale(0.94 1)" text-anchor="end">100</text><text transform="translate(37.8 342.17) scale(0.94 1)" text-anchor="end">200</text><text transform="translate(37.8 378.73) scale(0.94 1)" text-anchor="end">300</text><text transform="translate(37.8 415.3) scale(0.94 1)" text-anchor="end">400</text><text transform="translate(37.8 451.87) scale(0.94 1)" text-anchor="end">500</text><text transform="translate(37.8 488.43) scale(0.94 1)" text-anchor="end">600</text><text transform="translate(37.8 525) scale(0.94 1)" text-anchor="end">700</text></g><text font-family="'Liberation Serif', serif" font-size="9.7" font-weight="bold" fill="#111" text-anchor="middle" transform="translate(229.9 283.3) scale(0.93 1)">Strength reduction factor Fs</text><text font-family="'Liberation Serif', serif" font-size="9.6" font-weight="bold" fill="#111" text-anchor="middle" transform="translate(18 411.3) rotate(-90) scale(0.94 1)" x="0" y="3.2">Inner force of cable /kN</text><path d="M431.4 292.5H449.8" stroke="#1B5FA6" stroke-width="2.2"/><path d="M440.6 289.1L443.83 292.5L440.6 295.9L437.37 292.5Z" fill="#1B5FA6"/><text font-family="'Liberation Serif', serif" font-size="9.5" fill="#000" stroke="#000" stroke-width="0.2" transform="translate(451 295.8) scale(0.95 1)">Cable 1</text><path d="M431.4 307.5H449.8" stroke="#C4302C" stroke-width="2.2"/><rect x="437.88" y="304.78" width="5.44" height="5.44" fill="#C4302C"/><text font-family="'Liberation Serif', serif" font-size="9.5" fill="#000" stroke="#000" stroke-width="0.2" transform="translate(451 310.8) scale(0.95 1)">Cable 2</text><path d="M431.4 322.5H449.8" stroke="#6EA535" stroke-width="2.2"/><path d="M440.6 319.19L443.92 325.15L437.29 325.15Z" fill="#6EA535"/><text font-family="'Liberation Serif', serif" font-size="9.5" fill="#000" stroke="#000" stroke-width="0.2" transform="translate(451 325.8) scale(0.95 1)">Cable 3</text><path d="M431.4 337.5H449.8" stroke="#6A3D9E" stroke-width="2.2"/><path d="M437.97 334.87L443.24 340.13M437.97 340.13L443.24 334.87" stroke="#6A3D9E" stroke-width="1.5" fill="none"/><text font-family="'Liberation Serif', serif" font-size="9.5" fill="#000" stroke="#000" stroke-width="0.2" transform="translate(451 340.8) scale(0.95 1)">Cable 4</text><path d="M431.4 352.5H449.8" stroke="#1B90A2" stroke-width="2.2"/><path d="M437.88 349.78L443.32 355.22M437.88 355.22L443.32 349.78M440.6 349.78L440.6 355.22" stroke="#1B90A2" stroke-width="1.4" fill="none"/><text font-family="'Liberation Serif', serif" font-size="9.5" fill="#000" stroke="#000" stroke-width="0.2" transform="translate(451 355.8) scale(0.95 1)">Cable 5</text><path d="M431.4 367.5H449.8" stroke="#F07522" stroke-width="2.2"/><circle cx="440.6" cy="367.5" r="3.15" fill="#F07522"/><text font-family="'Liberation Serif', serif" font-size="9.5" fill="#000" stroke="#000" stroke-width="0.2" transform="translate(451 370.8) scale(0.95 1)">Cable 6</text><path d="M431.4 382.5H449.8" stroke="#1C74C2" stroke-width="2.2"/><path d="M440.6 379.27L440.6 385.73" stroke="#1C74C2" stroke-width="1.5" fill="none"/><text font-family="'Liberation Serif', serif" font-size="9.5" fill="#000" stroke="#000" stroke-width="0.2" transform="translate(451 385.8) scale(0.95 1)">Cable 7</text><path d="M431.4 397.5H449.8" stroke="#E0342F" stroke-width="2.2"/><text font-family="'Liberation Serif', serif" font-size="9.5" fill="#000" stroke="#000" stroke-width="0.2" transform="translate(451 400.8) scale(0.95 1)">Cable 8</text><path d="M431.4 412.5H449.8" stroke="#7DBA34" stroke-width="2.2"/><text font-family="'Liberation Serif', serif" font-size="9.5" fill="#000" stroke="#000" stroke-width="0.2" transform="translate(451 415.8) scale(0.95 1)">Cable 9</text><path d="M431.4 427.5H449.8" stroke="#7B47B6" stroke-width="2.2"/><path d="M440.6 424.1L443.83 427.5L440.6 430.9L437.37 427.5Z" fill="#7B47B6"/><text font-family="'Liberation Serif', serif" font-size="9.5" fill="#000" stroke="#000" stroke-width="0.2" transform="translate(451 430.8) scale(0.95 1)">Cable 10</text><path d="M431.4 442.5H449.8" stroke="#10A5CF" stroke-width="2.2"/><rect x="437.88" y="439.78" width="5.44" height="5.44" fill="#10A5CF"/><text font-family="'Liberation Serif', serif" font-size="9.5" fill="#000" stroke="#000" stroke-width="0.2" transform="translate(451 445.8) scale(0.95 1)">Cable 11</text><path d="M431.4 457.5H449.8" stroke="#F88B26" stroke-width="2.2"/><path d="M440.6 454.19L443.92 460.15L437.29 460.15Z" fill="#F88B26"/><text font-family="'Liberation Serif', serif" font-size="9.5" fill="#000" stroke="#000" stroke-width="0.2" transform="translate(451 460.8) scale(0.95 1)">Cable 12</text><path d="M431.4 472.5H449.8" stroke="#84A4DA" stroke-width="2.2"/><path d="M437.97 469.87L443.24 475.13M437.97 475.13L443.24 469.87" stroke="#84A4DA" stroke-width="1.5" fill="none"/><text font-family="'Liberation Serif', serif" font-size="9.5" fill="#000" stroke="#000" stroke-width="0.2" transform="translate(451 475.8) scale(0.95 1)">Cable 13</text><path d="M431.4 487.5H449.8" stroke="#EE9090" stroke-width="2.2"/><path d="M437.88 484.78L443.32 490.22M437.88 490.22L443.32 484.78M440.6 484.78L440.6 490.22" stroke="#EE9090" stroke-width="1.4" fill="none"/><text font-family="'Liberation Serif', serif" font-size="9.5" fill="#000" stroke="#000" stroke-width="0.2" transform="translate(451 490.8) scale(0.95 1)">Cable 14</text><path d="M431.4 502.5H449.8" stroke="#B4D19C" stroke-width="2.2"/><circle cx="440.6" cy="502.5" r="3.15" fill="#B4D19C"/><text font-family="'Liberation Serif', serif" font-size="9.5" fill="#000" stroke="#000" stroke-width="0.2" transform="translate(451 505.8) scale(0.95 1)">Cable 15</text><text font-family="'Liberation Serif', serif" font-size="12.4" fill="#1a1a1a" x="240.4" y="268.3" text-anchor="middle"><tspan font-weight="bold">(a)</tspan> 0 kN</text><text font-family="'Liberation Serif', serif" font-size="12.4" fill="#1a1a1a" x="240.9" y="545" text-anchor="middle"><tspan font-weight="bold">(b)</tspan> 100 kN</text></svg>
</body></html>
